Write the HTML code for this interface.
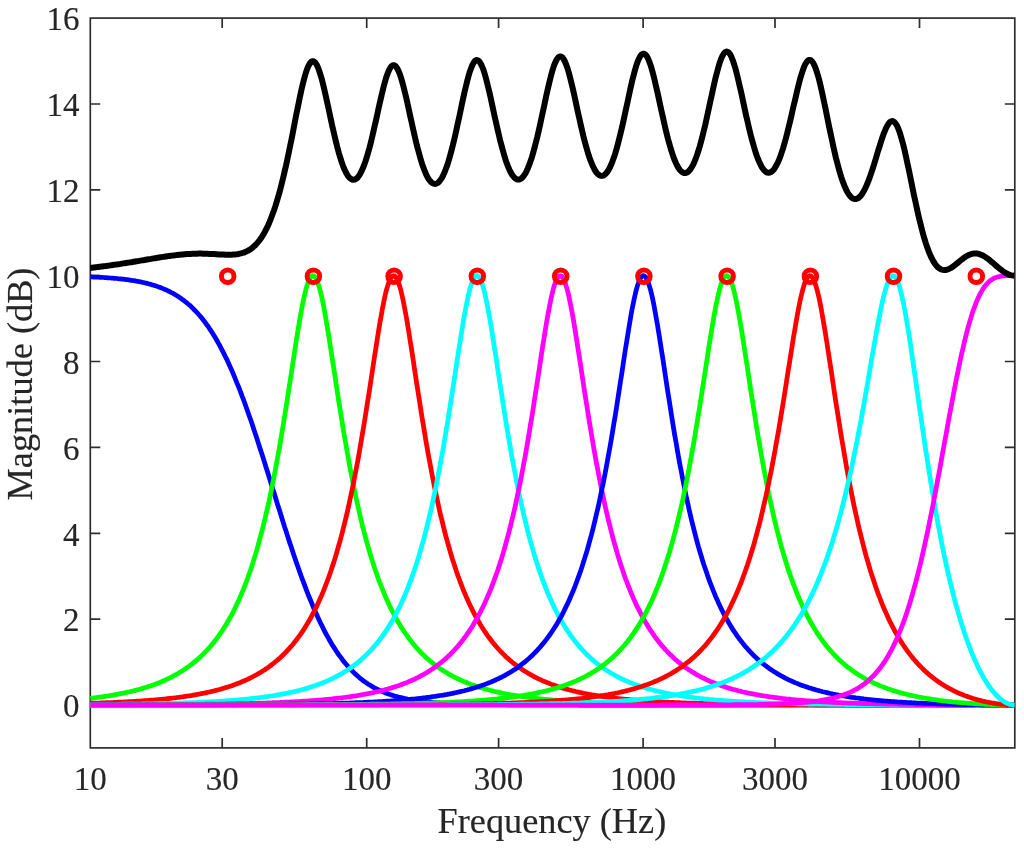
<!DOCTYPE html>
<html lang="en"><head><meta charset="utf-8"><title>Graphic equalizer band filters</title>
<style>
html,body{margin:0;padding:0;background:#fff;}
body{width:1024px;height:851px;overflow:hidden;}
svg{display:block;}
text.lab{font-size:36.3px;}
text{font-family:"Liberation Serif","Times New Roman",serif;font-size:33px;fill:#262626;stroke:#262626;stroke-width:0.15px;}
</style></head><body>
<svg width="1024" height="851" viewBox="0 0 1024 851">
<rect width="1024" height="851" fill="#fff"/>

<g stroke="#2e2e2e" stroke-width="1.7" fill="none">
<rect x="90.3" y="18.1" width="924.5" height="729.8"/>
<path d="M222.2 747.9 v-10.0 M222.2 18.1 v10.0"/>
<path d="M366.7 747.9 v-10.0 M366.7 18.1 v10.0"/>
<path d="M498.6 747.9 v-10.0 M498.6 18.1 v10.0"/>
<path d="M643.1 747.9 v-10.0 M643.1 18.1 v10.0"/>
<path d="M775.0 747.9 v-10.0 M775.0 18.1 v10.0"/>
<path d="M919.5 747.9 v-10.0 M919.5 18.1 v10.0"/>
<path d="M90.3 705.0 h10.0 M1014.8 705.0 h-10.0"/>
<path d="M90.3 619.1 h10.0 M1014.8 619.1 h-10.0"/>
<path d="M90.3 533.3 h10.0 M1014.8 533.3 h-10.0"/>
<path d="M90.3 447.4 h10.0 M1014.8 447.4 h-10.0"/>
<path d="M90.3 361.5 h10.0 M1014.8 361.5 h-10.0"/>
<path d="M90.3 275.7 h10.0 M1014.8 275.7 h-10.0"/>
<path d="M90.3 189.8 h10.0 M1014.8 189.8 h-10.0"/>
<path d="M90.3 104.0 h10.0 M1014.8 104.0 h-10.0"/>
</g>
<clipPath id="box"><rect x="89.8" y="18.1" width="925.7" height="729.8"/></clipPath>
<g fill="none" stroke-linejoin="round" stroke-linecap="butt" clip-path="url(#box)">
<path d="M90.3 276.9 L91.6 276.9 L92.9 277.0 L94.3 277.0 L95.6 277.1 L96.9 277.2 L98.2 277.2 L99.6 277.3 L100.9 277.4 L102.2 277.4 L103.5 277.5 L104.8 277.6 L106.2 277.7 L107.5 277.8 L108.8 277.9 L110.1 278.0 L111.5 278.1 L112.8 278.2 L114.1 278.3 L115.4 278.4 L116.7 278.5 L118.1 278.7 L119.4 278.8 L120.7 278.9 L122.0 279.1 L123.4 279.2 L124.7 279.4 L126.0 279.6 L127.3 279.7 L128.6 279.9 L130.0 280.1 L131.3 280.3 L132.6 280.5 L133.9 280.7 L135.2 280.9 L136.6 281.2 L137.9 281.4 L139.2 281.7 L140.5 281.9 L141.9 282.2 L143.2 282.5 L144.5 282.8 L145.8 283.1 L147.1 283.4 L148.5 283.8 L149.8 284.1 L151.1 284.5 L152.4 284.9 L153.8 285.3 L155.1 285.7 L156.4 286.1 L157.7 286.6 L159.0 287.1 L160.4 287.5 L161.7 288.1 L163.0 288.6 L164.3 289.2 L165.7 289.7 L167.0 290.3 L168.3 291.0 L169.6 291.6 L170.9 292.3 L172.3 293.0 L173.6 293.7 L174.9 294.5 L176.2 295.3 L177.6 296.1 L178.9 297.0 L180.2 297.9 L181.5 298.8 L182.8 299.8 L184.2 300.8 L185.5 301.8 L186.8 302.9 L188.1 304.0 L189.5 305.1 L190.8 306.3 L192.1 307.6 L193.4 308.9 L194.7 310.2 L196.1 311.6 L197.4 313.0 L198.7 314.5 L200.0 316.0 L201.4 317.6 L202.7 319.2 L204.0 320.9 L205.3 322.7 L206.6 324.5 L208.0 326.3 L209.3 328.3 L210.6 330.2 L211.9 332.3 L213.3 334.4 L214.6 336.5 L215.9 338.7 L217.2 341.0 L218.5 343.4 L219.9 345.8 L221.2 348.3 L222.5 350.8 L223.8 353.4 L225.1 356.1 L226.5 358.8 L227.8 361.6 L229.1 364.5 L230.4 367.4 L231.8 370.4 L233.1 373.5 L234.4 376.6 L235.7 379.8 L237.0 383.1 L238.4 386.4 L239.7 389.7 L241.0 393.2 L242.3 396.7 L243.7 400.2 L245.0 403.8 L246.3 407.5 L247.6 411.2 L248.9 415.0 L250.3 418.8 L251.6 422.6 L252.9 426.5 L254.2 430.5 L255.6 434.5 L256.9 438.5 L258.2 442.6 L259.5 446.7 L260.8 450.8 L262.2 454.9 L263.5 459.1 L264.8 463.3 L266.1 467.5 L267.5 471.7 L268.8 476.0 L270.1 480.2 L271.4 484.5 L272.7 488.8 L274.1 493.0 L275.4 497.3 L276.7 501.6 L278.0 505.8 L279.4 510.1 L280.7 514.3 L282.0 518.5 L283.3 522.7 L284.6 526.9 L286.0 531.0 L287.3 535.1 L288.6 539.2 L289.9 543.2 L291.3 547.3 L292.6 551.2 L293.9 555.2 L295.2 559.1 L296.5 562.9 L297.9 566.7 L299.2 570.5 L300.5 574.2 L301.8 577.8 L303.2 581.4 L304.5 584.9 L305.8 588.4 L307.1 591.8 L308.4 595.2 L309.8 598.5 L311.1 601.7 L312.4 604.9 L313.7 608.0 L315.0 611.1 L316.4 614.0 L317.7 617.0 L319.0 619.8 L320.3 622.6 L321.7 625.3 L323.0 628.0 L324.3 630.6 L325.6 633.1 L326.9 635.5 L328.3 637.9 L329.6 640.3 L330.9 642.5 L332.2 644.7 L333.6 646.9 L334.9 648.9 L336.2 651.0 L337.5 652.9 L338.8 654.8 L340.2 656.7 L341.5 658.4 L342.8 660.2 L344.1 661.9 L345.5 663.5 L346.8 665.0 L348.1 666.6 L349.4 668.0 L350.7 669.4 L352.1 670.8 L353.4 672.1 L354.7 673.4 L356.0 674.6 L357.4 675.8 L358.7 677.0 L360.0 678.1 L361.3 679.1 L362.6 680.2 L364.0 681.2 L365.3 682.1 L366.6 683.0 L367.9 683.9 L369.3 684.8 L370.6 685.6 L371.9 686.4 L373.2 687.1 L374.5 687.8 L375.9 688.5 L377.2 689.2 L378.5 689.9 L379.8 690.5 L381.2 691.1 L382.5 691.6 L383.8 692.2 L385.1 692.7 L386.4 693.2 L387.8 693.7 L389.1 694.2 L390.4 694.6 L391.7 695.1 L393.1 695.5 L394.4 695.9 L395.7 696.3 L397.0 696.6 L398.3 697.0 L399.7 697.3 L401.0 697.6 L402.3 697.9 L403.6 698.2 L404.9 698.5 L406.3 698.8 L407.6 699.1 L408.9 699.3 L410.2 699.5 L411.6 699.8 L412.9 700.0 L414.2 700.2 L415.5 700.4 L416.8 700.6 L418.2 700.8 L419.5 701.0 L420.8 701.1 L422.1 701.3 L423.5 701.5 L424.8 701.6 L426.1 701.8 L427.4 701.9 L428.7 702.0 L430.1 702.1 L431.4 702.3 L432.7 702.4 L434.0 702.5 L435.4 702.6 L436.7 702.7 L438.0 702.8 L439.3 702.9 L440.6 703.0 L442.0 703.1 L443.3 703.1 L444.6 703.2 L445.9 703.3 L447.3 703.4 L448.6 703.4 L449.9 703.5 L451.2 703.6 L452.5 703.6 L453.9 703.7 L455.2 703.7 L456.5 703.8 L457.8 703.8 L459.2 703.9 L460.5 703.9 L461.8 704.0 L463.1 704.0 L464.4 704.1 L465.8 704.1 L467.1 704.1 L468.4 704.2 L469.7 704.2 L471.1 704.2 L472.4 704.3 L473.7 704.3 L475.0 704.3 L476.3 704.4 L477.7 704.4 L479.0 704.4 L480.3 704.4 L481.6 704.5 L483.0 704.5 L484.3 704.5 L485.6 704.5 L486.9 704.5 L488.2 704.6 L489.6 704.6 L490.9 704.6 L492.2 704.6 L493.5 704.6 L494.8 704.6 L496.2 704.7 L497.5 704.7 L498.8 704.7 L500.1 704.7 L501.5 704.7 L502.8 704.7 L504.1 704.7 L505.4 704.7 L506.7 704.7 L508.1 704.8 L509.4 704.8 L510.7 704.8 L512.0 704.8 L513.4 704.8 L514.7 704.8 L516.0 704.8 L517.3 704.8 L518.6 704.8 L520.0 704.8 L521.3 704.8 L522.6 704.8 L523.9 704.8 L525.3 704.9 L526.6 704.9 L527.9 704.9 L529.2 704.9 L530.5 704.9 L531.9 704.9 L533.2 704.9 L534.5 704.9 L535.8 704.9 L537.2 704.9 L538.5 704.9 L539.8 704.9 L541.1 704.9 L542.4 704.9 L543.8 704.9 L545.1 704.9 L546.4 704.9 L547.7 704.9 L549.1 704.9 L550.4 704.9 L551.7 704.9 L553.0 704.9 L554.3 704.9 L555.7 704.9 L557.0 704.9 L558.3 704.9 L559.6 704.9 L561.0 704.9 L562.3 704.9 L563.6 704.9 L564.9 704.9 L566.2 704.9 L567.6 704.9 L568.9 704.9 L570.2 704.9 L571.5 704.9 L572.9 704.9 L574.2 704.9 L575.5 704.9 L576.8 704.9 L578.1 705.0 L579.5 705.0 L580.8 705.0 L582.1 705.0 L583.4 705.0 L584.7 705.0 L586.1 705.0 L587.4 705.0 L588.7 705.0 L590.0 705.0 L591.4 705.0 L592.7 705.0 L594.0 705.0 L595.3 705.0 L596.6 705.0 L598.0 705.0 L599.3 705.0 L600.6 705.0 L601.9 705.0 L603.3 705.0 L604.6 705.0 L605.9 705.0 L607.2 705.0 L608.5 705.0 L609.9 705.0 L611.2 705.0 L612.5 705.0 L613.8 705.0 L615.2 705.0 L616.5 705.0 L617.8 705.0 L619.1 705.0 L620.4 705.0 L621.8 705.0 L623.1 705.0 L624.4 705.0 L625.7 705.0 L627.1 705.0 L628.4 705.0 L629.7 705.0 L631.0 705.0 L632.3 705.0 L633.7 705.0 L635.0 705.0 L636.3 705.0 L637.6 705.0 L639.0 705.0 L640.3 705.0 L641.6 705.0 L642.9 705.0 L644.2 705.0 L645.6 705.0 L646.9 705.0 L648.2 705.0 L649.5 705.0 L650.9 705.0 L652.2 705.0 L653.5 705.0 L654.8 705.0 L656.1 705.0 L657.5 705.0 L658.8 705.0 L660.1 705.0 L661.4 705.0 L662.8 705.0 L664.1 705.0 L665.4 705.0 L666.7 705.0 L668.0 705.0 L669.4 705.0 L670.7 705.0 L672.0 705.0 L673.3 705.0 L674.6 705.0 L676.0 705.0 L677.3 705.0 L678.6 705.0 L679.9 705.0 L681.3 705.0 L682.6 705.0 L683.9 705.0 L685.2 705.0 L686.5 705.0 L687.9 705.0 L689.2 705.0 L690.5 705.0 L691.8 705.0 L693.2 705.0 L694.5 705.0 L695.8 705.0 L697.1 705.0 L698.4 705.0 L699.8 705.0 L701.1 705.0 L702.4 705.0 L703.7 705.0 L705.1 705.0 L706.4 705.0 L707.7 705.0 L709.0 705.0 L710.3 705.0 L711.7 705.0 L713.0 705.0 L714.3 705.0 L715.6 705.0 L717.0 705.0 L718.3 705.0 L719.6 705.0 L720.9 705.0 L722.2 705.0 L723.6 705.0 L724.9 705.0 L726.2 705.0 L727.5 705.0 L728.9 705.0 L730.2 705.0 L731.5 705.0 L732.8 705.0 L734.1 705.0 L735.5 705.0 L736.8 705.0 L738.1 705.0 L739.4 705.0 L740.8 705.0 L742.1 705.0 L743.4 705.0 L744.7 705.0 L746.0 705.0 L747.4 705.0 L748.7 705.0 L750.0 705.0 L751.3 705.0 L752.7 705.0 L754.0 705.0 L755.3 705.0 L756.6 705.0 L757.9 705.0 L759.3 705.0 L760.6 705.0 L761.9 705.0 L763.2 705.0 L764.5 705.0 L765.9 705.0 L767.2 705.0 L768.5 705.0 L769.8 705.0 L771.2 705.0 L772.5 705.0 L773.8 705.0 L775.1 705.0 L776.4 705.0 L777.8 705.0 L779.1 705.0 L780.4 705.0 L781.7 705.0 L783.1 705.0 L784.4 705.0 L785.7 705.0 L787.0 705.0 L788.3 705.0 L789.7 705.0 L791.0 705.0 L792.3 705.0 L793.6 705.0 L795.0 705.0 L796.3 705.0 L797.6 705.0 L798.9 705.0 L800.2 705.0 L801.6 705.0 L802.9 705.0 L804.2 705.0 L805.5 705.0 L806.9 705.0 L808.2 705.0 L809.5 705.0 L810.8 705.0 L812.1 705.0 L813.5 705.0 L814.8 705.0 L816.1 705.0 L817.4 705.0 L818.8 705.0 L820.1 705.0 L821.4 705.0 L822.7 705.0 L824.0 705.0 L825.4 705.0 L826.7 705.0 L828.0 705.0 L829.3 705.0 L830.7 705.0 L832.0 705.0 L833.3 705.0 L834.6 705.0 L835.9 705.0 L837.3 705.0 L838.6 705.0 L839.9 705.0 L841.2 705.0 L842.6 705.0 L843.9 705.0 L845.2 705.0 L846.5 705.0 L847.8 705.0 L849.2 705.0 L850.5 705.0 L851.8 705.0 L853.1 705.0 L854.4 705.0 L855.8 705.0 L857.1 705.0 L858.4 705.0 L859.7 705.0 L861.1 705.0 L862.4 705.0 L863.7 705.0 L865.0 705.0 L866.3 705.0 L867.7 705.0 L869.0 705.0 L870.3 705.0 L871.6 705.0 L873.0 705.0 L874.3 705.0 L875.6 705.0 L876.9 705.0 L878.2 705.0 L879.6 705.0 L880.9 705.0 L882.2 705.0 L883.5 705.0 L884.9 705.0 L886.2 705.0 L887.5 705.0 L888.8 705.0 L890.1 705.0 L891.5 705.0 L892.8 705.0 L894.1 705.0 L895.4 705.0 L896.8 705.0 L898.1 705.0 L899.4 705.0 L900.7 705.0 L902.0 705.0 L903.4 705.0 L904.7 705.0 L906.0 705.0 L907.3 705.0 L908.7 705.0 L910.0 705.0 L911.3 705.0 L912.6 705.0 L913.9 705.0 L915.3 705.0 L916.6 705.0 L917.9 705.0 L919.2 705.0 L920.6 705.0 L921.9 705.0 L923.2 705.0 L924.5 705.0 L925.8 705.0 L927.2 705.0 L928.5 705.0 L929.8 705.0 L931.1 705.0 L932.5 705.0 L933.8 705.0 L935.1 705.0 L936.4 705.0 L937.7 705.0 L939.1 705.0 L940.4 705.0 L941.7 705.0 L943.0 705.0 L944.3 705.0 L945.7 705.0 L947.0 705.0 L948.3 705.0 L949.6 705.0 L951.0 705.0 L952.3 705.0 L953.6 705.0 L954.9 705.0 L956.2 705.0 L957.6 705.0 L958.9 705.0 L960.2 705.0 L961.5 705.0 L962.9 705.0 L964.2 705.0 L965.5 705.0 L966.8 705.0 L968.1 705.0 L969.5 705.0 L970.8 705.0 L972.1 705.0 L973.4 705.0 L974.8 705.0 L976.1 705.0 L977.4 705.0 L978.7 705.0 L980.0 705.0 L981.4 705.0 L982.7 705.0 L984.0 705.0 L985.3 705.0 L986.7 705.0 L988.0 705.0 L989.3 705.0 L990.6 705.0 L991.9 705.0 L993.3 705.0 L994.6 705.0 L995.9 705.0 L997.2 705.0 L998.6 705.0 L999.9 705.0 L1001.2 705.0 L1002.5 705.0 L1003.8 705.0 L1005.2 705.0 L1006.5 705.0 L1007.8 705.0 L1009.1 705.0 L1010.5 705.0 L1011.8 705.0 L1013.1 705.0 L1014.4 705.0" stroke="#0000ff" stroke-width="4.75"/>
<path d="M90.3 698.3 L91.6 698.1 L92.9 698.0 L94.3 697.8 L95.6 697.7 L96.9 697.5 L98.2 697.3 L99.6 697.1 L100.9 697.0 L102.2 696.8 L103.5 696.6 L104.8 696.4 L106.2 696.2 L107.5 696.0 L108.8 695.8 L110.1 695.6 L111.5 695.4 L112.8 695.1 L114.1 694.9 L115.4 694.7 L116.7 694.4 L118.1 694.2 L119.4 693.9 L120.7 693.7 L122.0 693.4 L123.4 693.1 L124.7 692.9 L126.0 692.6 L127.3 692.3 L128.6 692.0 L130.0 691.7 L131.3 691.4 L132.6 691.1 L133.9 690.7 L135.2 690.4 L136.6 690.1 L137.9 689.7 L139.2 689.3 L140.5 689.0 L141.9 688.6 L143.2 688.2 L144.5 687.8 L145.8 687.4 L147.1 687.0 L148.5 686.5 L149.8 686.1 L151.1 685.7 L152.4 685.2 L153.8 684.7 L155.1 684.2 L156.4 683.7 L157.7 683.2 L159.0 682.7 L160.4 682.2 L161.7 681.6 L163.0 681.0 L164.3 680.5 L165.7 679.9 L167.0 679.2 L168.3 678.6 L169.6 678.0 L170.9 677.3 L172.3 676.6 L173.6 675.9 L174.9 675.2 L176.2 674.5 L177.6 673.7 L178.9 672.9 L180.2 672.1 L181.5 671.3 L182.8 670.5 L184.2 669.6 L185.5 668.7 L186.8 667.8 L188.1 666.9 L189.5 665.9 L190.8 664.9 L192.1 663.9 L193.4 662.9 L194.7 661.8 L196.1 660.7 L197.4 659.5 L198.7 658.4 L200.0 657.2 L201.4 655.9 L202.7 654.6 L204.0 653.3 L205.3 652.0 L206.6 650.6 L208.0 649.2 L209.3 647.7 L210.6 646.2 L211.9 644.6 L213.3 643.0 L214.6 641.3 L215.9 639.6 L217.2 637.9 L218.5 636.1 L219.9 634.2 L221.2 632.3 L222.5 630.3 L223.8 628.3 L225.1 626.2 L226.5 624.0 L227.8 621.7 L229.1 619.4 L230.4 617.1 L231.8 614.6 L233.1 612.1 L234.4 609.5 L235.7 606.8 L237.0 604.0 L238.4 601.1 L239.7 598.1 L241.0 595.1 L242.3 591.9 L243.7 588.7 L245.0 585.3 L246.3 581.8 L247.6 578.3 L248.9 574.5 L250.3 570.7 L251.6 566.8 L252.9 562.7 L254.2 558.5 L255.6 554.1 L256.9 549.7 L258.2 545.0 L259.5 540.2 L260.8 535.3 L262.2 530.2 L263.5 524.9 L264.8 519.5 L266.1 513.9 L267.5 508.1 L268.8 502.2 L270.1 496.0 L271.4 489.7 L272.7 483.2 L274.1 476.5 L275.4 469.6 L276.7 462.5 L278.0 455.3 L279.4 447.8 L280.7 440.1 L282.0 432.3 L283.3 424.3 L284.6 416.2 L286.0 407.9 L287.3 399.4 L288.6 390.9 L289.9 382.3 L291.3 373.6 L292.6 364.9 L293.9 356.3 L295.2 347.7 L296.5 339.2 L297.9 331.0 L299.2 323.0 L300.5 315.3 L301.8 308.1 L303.2 301.4 L304.5 295.3 L305.8 289.9 L307.1 285.2 L308.4 281.4 L309.8 278.6 L311.1 276.6 L312.4 275.7 L313.7 275.9 L315.0 277.0 L316.4 279.2 L317.7 282.3 L319.0 286.3 L320.3 291.2 L321.7 296.8 L323.0 303.1 L324.3 309.9 L325.6 317.2 L326.9 325.0 L328.3 333.0 L329.6 341.4 L330.9 349.8 L332.2 358.5 L333.6 367.1 L334.9 375.8 L336.2 384.5 L337.5 393.1 L338.8 401.6 L340.2 410.0 L341.5 418.2 L342.8 426.4 L344.1 434.3 L345.5 442.1 L346.8 449.7 L348.1 457.1 L349.4 464.3 L350.7 471.4 L352.1 478.2 L353.4 484.9 L354.7 491.3 L356.0 497.6 L357.4 503.7 L358.7 509.6 L360.0 515.3 L361.3 520.9 L362.6 526.3 L364.0 531.5 L365.3 536.6 L366.6 541.5 L367.9 546.2 L369.3 550.8 L370.6 555.3 L371.9 559.6 L373.2 563.7 L374.5 567.8 L375.9 571.7 L377.2 575.5 L378.5 579.2 L379.8 582.7 L381.2 586.2 L382.5 589.5 L383.8 592.7 L385.1 595.9 L386.4 598.9 L387.8 601.8 L389.1 604.7 L390.4 607.4 L391.7 610.1 L393.1 612.7 L394.4 615.2 L395.7 617.7 L397.0 620.0 L398.3 622.3 L399.7 624.5 L401.0 626.7 L402.3 628.8 L403.6 630.8 L404.9 632.8 L406.3 634.7 L407.6 636.5 L408.9 638.3 L410.2 640.1 L411.6 641.8 L412.9 643.4 L414.2 645.0 L415.5 646.6 L416.8 648.1 L418.2 649.5 L419.5 650.9 L420.8 652.3 L422.1 653.7 L423.5 655.0 L424.8 656.2 L426.1 657.5 L427.4 658.7 L428.7 659.8 L430.1 661.0 L431.4 662.1 L432.7 663.1 L434.0 664.2 L435.4 665.2 L436.7 666.2 L438.0 667.1 L439.3 668.1 L440.6 669.0 L442.0 669.8 L443.3 670.7 L444.6 671.5 L445.9 672.4 L447.3 673.1 L448.6 673.9 L449.9 674.7 L451.2 675.4 L452.5 676.1 L453.9 676.8 L455.2 677.5 L456.5 678.1 L457.8 678.8 L459.2 679.4 L460.5 680.0 L461.8 680.6 L463.1 681.2 L464.4 681.8 L465.8 682.3 L467.1 682.8 L468.4 683.4 L469.7 683.9 L471.1 684.4 L472.4 684.8 L473.7 685.3 L475.0 685.8 L476.3 686.2 L477.7 686.7 L479.0 687.1 L480.3 687.5 L481.6 687.9 L483.0 688.3 L484.3 688.7 L485.6 689.1 L486.9 689.4 L488.2 689.8 L489.6 690.1 L490.9 690.5 L492.2 690.8 L493.5 691.1 L494.8 691.5 L496.2 691.8 L497.5 692.1 L498.8 692.4 L500.1 692.7 L501.5 692.9 L502.8 693.2 L504.1 693.5 L505.4 693.7 L506.7 694.0 L508.1 694.2 L509.4 694.5 L510.7 694.7 L512.0 695.0 L513.4 695.2 L514.7 695.4 L516.0 695.6 L517.3 695.8 L518.6 696.0 L520.0 696.2 L521.3 696.4 L522.6 696.6 L523.9 696.8 L525.3 697.0 L526.6 697.2 L527.9 697.4 L529.2 697.5 L530.5 697.7 L531.9 697.9 L533.2 698.0 L534.5 698.2 L535.8 698.3 L537.2 698.5 L538.5 698.6 L539.8 698.8 L541.1 698.9 L542.4 699.0 L543.8 699.2 L545.1 699.3 L546.4 699.4 L547.7 699.6 L549.1 699.7 L550.4 699.8 L551.7 699.9 L553.0 700.0 L554.3 700.1 L555.7 700.2 L557.0 700.3 L558.3 700.4 L559.6 700.5 L561.0 700.6 L562.3 700.7 L563.6 700.8 L564.9 700.9 L566.2 701.0 L567.6 701.1 L568.9 701.2 L570.2 701.3 L571.5 701.4 L572.9 701.4 L574.2 701.5 L575.5 701.6 L576.8 701.7 L578.1 701.7 L579.5 701.8 L580.8 701.9 L582.1 701.9 L583.4 702.0 L584.7 702.1 L586.1 702.1 L587.4 702.2 L588.7 702.3 L590.0 702.3 L591.4 702.4 L592.7 702.4 L594.0 702.5 L595.3 702.5 L596.6 702.6 L598.0 702.7 L599.3 702.7 L600.6 702.8 L601.9 702.8 L603.3 702.9 L604.6 702.9 L605.9 702.9 L607.2 703.0 L608.5 703.0 L609.9 703.1 L611.2 703.1 L612.5 703.2 L613.8 703.2 L615.2 703.2 L616.5 703.3 L617.8 703.3 L619.1 703.3 L620.4 703.4 L621.8 703.4 L623.1 703.5 L624.4 703.5 L625.7 703.5 L627.1 703.6 L628.4 703.6 L629.7 703.6 L631.0 703.6 L632.3 703.7 L633.7 703.7 L635.0 703.7 L636.3 703.8 L637.6 703.8 L639.0 703.8 L640.3 703.8 L641.6 703.9 L642.9 703.9 L644.2 703.9 L645.6 703.9 L646.9 704.0 L648.2 704.0 L649.5 704.0 L650.9 704.0 L652.2 704.0 L653.5 704.1 L654.8 704.1 L656.1 704.1 L657.5 704.1 L658.8 704.1 L660.1 704.2 L661.4 704.2 L662.8 704.2 L664.1 704.2 L665.4 704.2 L666.7 704.2 L668.0 704.3 L669.4 704.3 L670.7 704.3 L672.0 704.3 L673.3 704.3 L674.6 704.3 L676.0 704.3 L677.3 704.4 L678.6 704.4 L679.9 704.4 L681.3 704.4 L682.6 704.4 L683.9 704.4 L685.2 704.4 L686.5 704.4 L687.9 704.5 L689.2 704.5 L690.5 704.5 L691.8 704.5 L693.2 704.5 L694.5 704.5 L695.8 704.5 L697.1 704.5 L698.4 704.5 L699.8 704.6 L701.1 704.6 L702.4 704.6 L703.7 704.6 L705.1 704.6 L706.4 704.6 L707.7 704.6 L709.0 704.6 L710.3 704.6 L711.7 704.6 L713.0 704.6 L714.3 704.6 L715.6 704.7 L717.0 704.7 L718.3 704.7 L719.6 704.7 L720.9 704.7 L722.2 704.7 L723.6 704.7 L724.9 704.7 L726.2 704.7 L727.5 704.7 L728.9 704.7 L730.2 704.7 L731.5 704.7 L732.8 704.7 L734.1 704.7 L735.5 704.7 L736.8 704.7 L738.1 704.8 L739.4 704.8 L740.8 704.8 L742.1 704.8 L743.4 704.8 L744.7 704.8 L746.0 704.8 L747.4 704.8 L748.7 704.8 L750.0 704.8 L751.3 704.8 L752.7 704.8 L754.0 704.8 L755.3 704.8 L756.6 704.8 L757.9 704.8 L759.3 704.8 L760.6 704.8 L761.9 704.8 L763.2 704.8 L764.5 704.8 L765.9 704.8 L767.2 704.8 L768.5 704.8 L769.8 704.8 L771.2 704.8 L772.5 704.8 L773.8 704.9 L775.1 704.9 L776.4 704.9 L777.8 704.9 L779.1 704.9 L780.4 704.9 L781.7 704.9 L783.1 704.9 L784.4 704.9 L785.7 704.9 L787.0 704.9 L788.3 704.9 L789.7 704.9 L791.0 704.9 L792.3 704.9 L793.6 704.9 L795.0 704.9 L796.3 704.9 L797.6 704.9 L798.9 704.9 L800.2 704.9 L801.6 704.9 L802.9 704.9 L804.2 704.9 L805.5 704.9 L806.9 704.9 L808.2 704.9 L809.5 704.9 L810.8 704.9 L812.1 704.9 L813.5 704.9 L814.8 704.9 L816.1 704.9 L817.4 704.9 L818.8 704.9 L820.1 704.9 L821.4 704.9 L822.7 704.9 L824.0 704.9 L825.4 704.9 L826.7 704.9 L828.0 704.9 L829.3 704.9 L830.7 704.9 L832.0 704.9 L833.3 704.9 L834.6 704.9 L835.9 704.9 L837.3 704.9 L838.6 704.9 L839.9 704.9 L841.2 704.9 L842.6 704.9 L843.9 704.9 L845.2 704.9 L846.5 704.9 L847.8 704.9 L849.2 704.9 L850.5 704.9 L851.8 704.9 L853.1 704.9 L854.4 704.9 L855.8 704.9 L857.1 704.9 L858.4 704.9 L859.7 704.9 L861.1 704.9 L862.4 704.9 L863.7 704.9 L865.0 704.9 L866.3 704.9 L867.7 704.9 L869.0 704.9 L870.3 704.9 L871.6 705.0 L873.0 705.0 L874.3 705.0 L875.6 705.0 L876.9 705.0 L878.2 705.0 L879.6 705.0 L880.9 705.0 L882.2 705.0 L883.5 705.0 L884.9 705.0 L886.2 705.0 L887.5 705.0 L888.8 705.0 L890.1 705.0 L891.5 705.0 L892.8 705.0 L894.1 705.0 L895.4 705.0 L896.8 705.0 L898.1 705.0 L899.4 705.0 L900.7 705.0 L902.0 705.0 L903.4 705.0 L904.7 705.0 L906.0 705.0 L907.3 705.0 L908.7 705.0 L910.0 705.0 L911.3 705.0 L912.6 705.0 L913.9 705.0 L915.3 705.0 L916.6 705.0 L917.9 705.0 L919.2 705.0 L920.6 705.0 L921.9 705.0 L923.2 705.0 L924.5 705.0 L925.8 705.0 L927.2 705.0 L928.5 705.0 L929.8 705.0 L931.1 705.0 L932.5 705.0 L933.8 705.0 L935.1 705.0 L936.4 705.0 L937.7 705.0 L939.1 705.0 L940.4 705.0 L941.7 705.0 L943.0 705.0 L944.3 705.0 L945.7 705.0 L947.0 705.0 L948.3 705.0 L949.6 705.0 L951.0 705.0 L952.3 705.0 L953.6 705.0 L954.9 705.0 L956.2 705.0 L957.6 705.0 L958.9 705.0 L960.2 705.0 L961.5 705.0 L962.9 705.0 L964.2 705.0 L965.5 705.0 L966.8 705.0 L968.1 705.0 L969.5 705.0 L970.8 705.0 L972.1 705.0 L973.4 705.0 L974.8 705.0 L976.1 705.0 L977.4 705.0 L978.7 705.0 L980.0 705.0 L981.4 705.0 L982.7 705.0 L984.0 705.0 L985.3 705.0 L986.7 705.0 L988.0 705.0 L989.3 705.0 L990.6 705.0 L991.9 705.0 L993.3 705.0 L994.6 705.0 L995.9 705.0 L997.2 705.0 L998.6 705.0 L999.9 705.0 L1001.2 705.0 L1002.5 705.0 L1003.8 705.0 L1005.2 705.0 L1006.5 705.0 L1007.8 705.0 L1009.1 705.0 L1010.5 705.0 L1011.8 705.0 L1013.1 705.0 L1014.4 705.0" stroke="#00ff00" stroke-width="4.75"/>
<path d="M90.3 703.3 L91.6 703.2 L92.9 703.2 L94.3 703.1 L95.6 703.1 L96.9 703.1 L98.2 703.0 L99.6 703.0 L100.9 702.9 L102.2 702.9 L103.5 702.8 L104.8 702.8 L106.2 702.7 L107.5 702.7 L108.8 702.6 L110.1 702.6 L111.5 702.5 L112.8 702.5 L114.1 702.4 L115.4 702.4 L116.7 702.3 L118.1 702.2 L119.4 702.2 L120.7 702.1 L122.0 702.1 L123.4 702.0 L124.7 701.9 L126.0 701.9 L127.3 701.8 L128.6 701.7 L130.0 701.6 L131.3 701.6 L132.6 701.5 L133.9 701.4 L135.2 701.3 L136.6 701.2 L137.9 701.2 L139.2 701.1 L140.5 701.0 L141.9 700.9 L143.2 700.8 L144.5 700.7 L145.8 700.6 L147.1 700.5 L148.5 700.4 L149.8 700.3 L151.1 700.2 L152.4 700.1 L153.8 700.0 L155.1 699.9 L156.4 699.8 L157.7 699.6 L159.0 699.5 L160.4 699.4 L161.7 699.3 L163.0 699.1 L164.3 699.0 L165.7 698.9 L167.0 698.7 L168.3 698.6 L169.6 698.4 L170.9 698.3 L172.3 698.1 L173.6 698.0 L174.9 697.8 L176.2 697.7 L177.6 697.5 L178.9 697.3 L180.2 697.1 L181.5 697.0 L182.8 696.8 L184.2 696.6 L185.5 696.4 L186.8 696.2 L188.1 696.0 L189.5 695.8 L190.8 695.6 L192.1 695.4 L193.4 695.1 L194.7 694.9 L196.1 694.7 L197.4 694.4 L198.7 694.2 L200.0 693.9 L201.4 693.7 L202.7 693.4 L204.0 693.2 L205.3 692.9 L206.6 692.6 L208.0 692.3 L209.3 692.0 L210.6 691.7 L211.9 691.4 L213.3 691.1 L214.6 690.7 L215.9 690.4 L217.2 690.1 L218.5 689.7 L219.9 689.4 L221.2 689.0 L222.5 688.6 L223.8 688.2 L225.1 687.8 L226.5 687.4 L227.8 687.0 L229.1 686.6 L230.4 686.1 L231.8 685.7 L233.1 685.2 L234.4 684.7 L235.7 684.3 L237.0 683.8 L238.4 683.2 L239.7 682.7 L241.0 682.2 L242.3 681.6 L243.7 681.1 L245.0 680.5 L246.3 679.9 L247.6 679.3 L248.9 678.6 L250.3 678.0 L251.6 677.3 L252.9 676.7 L254.2 676.0 L255.6 675.2 L256.9 674.5 L258.2 673.7 L259.5 673.0 L260.8 672.2 L262.2 671.4 L263.5 670.5 L264.8 669.7 L266.1 668.8 L267.5 667.9 L268.8 666.9 L270.1 666.0 L271.4 665.0 L272.7 663.9 L274.1 662.9 L275.4 661.8 L276.7 660.7 L278.0 659.6 L279.4 658.4 L280.7 657.2 L282.0 656.0 L283.3 654.7 L284.6 653.4 L286.0 652.0 L287.3 650.6 L288.6 649.2 L289.9 647.7 L291.3 646.2 L292.6 644.7 L293.9 643.1 L295.2 641.4 L296.5 639.7 L297.9 637.9 L299.2 636.1 L300.5 634.3 L301.8 632.4 L303.2 630.4 L304.5 628.3 L305.8 626.2 L307.1 624.1 L308.4 621.8 L309.8 619.5 L311.1 617.2 L312.4 614.7 L313.7 612.2 L315.0 609.6 L316.4 606.9 L317.7 604.1 L319.0 601.2 L320.3 598.3 L321.7 595.2 L323.0 592.1 L324.3 588.8 L325.6 585.4 L326.9 582.0 L328.3 578.4 L329.6 574.7 L330.9 570.9 L332.2 566.9 L333.6 562.9 L334.9 558.7 L336.2 554.3 L337.5 549.8 L338.8 545.2 L340.2 540.4 L341.5 535.5 L342.8 530.4 L344.1 525.2 L345.5 519.7 L346.8 514.1 L348.1 508.4 L349.4 502.4 L350.7 496.3 L352.1 490.0 L353.4 483.5 L354.7 476.8 L356.0 469.9 L357.4 462.8 L358.7 455.6 L360.0 448.1 L361.3 440.5 L362.6 432.6 L364.0 424.7 L365.3 416.5 L366.6 408.2 L367.9 399.8 L369.3 391.3 L370.6 382.6 L371.9 374.0 L373.2 365.3 L374.5 356.6 L375.9 348.0 L377.2 339.6 L378.5 331.3 L379.8 323.3 L381.2 315.7 L382.5 308.4 L383.8 301.7 L385.1 295.5 L386.4 290.1 L387.8 285.4 L389.1 281.6 L390.4 278.7 L391.7 276.7 L393.1 275.8 L394.4 275.9 L395.7 277.0 L397.0 279.1 L398.3 282.2 L399.7 286.1 L401.0 291.0 L402.3 296.5 L403.6 302.8 L404.9 309.6 L406.3 316.9 L407.6 324.7 L408.9 332.7 L410.2 341.0 L411.6 349.5 L412.9 358.1 L414.2 366.8 L415.5 375.5 L416.8 384.1 L418.2 392.7 L419.5 401.2 L420.8 409.6 L422.1 417.9 L423.5 426.0 L424.8 434.0 L426.1 441.8 L427.4 449.4 L428.7 456.8 L430.1 464.0 L431.4 471.1 L432.7 477.9 L434.0 484.6 L435.4 491.1 L436.7 497.4 L438.0 503.5 L439.3 509.4 L440.6 515.1 L442.0 520.7 L443.3 526.1 L444.6 531.3 L445.9 536.4 L447.3 541.3 L448.6 546.0 L449.9 550.6 L451.2 555.1 L452.5 559.4 L453.9 563.6 L455.2 567.6 L456.5 571.6 L457.8 575.3 L459.2 579.0 L460.5 582.6 L461.8 586.0 L463.1 589.4 L464.4 592.6 L465.8 595.7 L467.1 598.8 L468.4 601.7 L469.7 604.6 L471.1 607.3 L472.4 610.0 L473.7 612.6 L475.0 615.1 L476.3 617.6 L477.7 619.9 L479.0 622.2 L480.3 624.5 L481.6 626.6 L483.0 628.7 L484.3 630.7 L485.6 632.7 L486.9 634.6 L488.2 636.5 L489.6 638.3 L490.9 640.0 L492.2 641.7 L493.5 643.4 L494.8 644.9 L496.2 646.5 L497.5 648.0 L498.8 649.5 L500.1 650.9 L501.5 652.3 L502.8 653.6 L504.1 654.9 L505.4 656.2 L506.7 657.4 L508.1 658.6 L509.4 659.8 L510.7 660.9 L512.0 662.0 L513.4 663.1 L514.7 664.1 L516.0 665.1 L517.3 666.1 L518.6 667.1 L520.0 668.0 L521.3 668.9 L522.6 669.8 L523.9 670.7 L525.3 671.5 L526.6 672.3 L527.9 673.1 L529.2 673.9 L530.5 674.6 L531.9 675.4 L533.2 676.1 L534.5 676.8 L535.8 677.5 L537.2 678.1 L538.5 678.8 L539.8 679.4 L541.1 680.0 L542.4 680.6 L543.8 681.2 L545.1 681.7 L546.4 682.3 L547.7 682.8 L549.1 683.3 L550.4 683.9 L551.7 684.4 L553.0 684.8 L554.3 685.3 L555.7 685.8 L557.0 686.2 L558.3 686.7 L559.6 687.1 L561.0 687.5 L562.3 687.9 L563.6 688.3 L564.9 688.7 L566.2 689.1 L567.6 689.4 L568.9 689.8 L570.2 690.1 L571.5 690.5 L572.9 690.8 L574.2 691.1 L575.5 691.5 L576.8 691.8 L578.1 692.1 L579.5 692.4 L580.8 692.7 L582.1 692.9 L583.4 693.2 L584.7 693.5 L586.1 693.7 L587.4 694.0 L588.7 694.2 L590.0 694.5 L591.4 694.7 L592.7 695.0 L594.0 695.2 L595.3 695.4 L596.6 695.6 L598.0 695.8 L599.3 696.0 L600.6 696.2 L601.9 696.4 L603.3 696.6 L604.6 696.8 L605.9 697.0 L607.2 697.2 L608.5 697.4 L609.9 697.5 L611.2 697.7 L612.5 697.9 L613.8 698.0 L615.2 698.2 L616.5 698.3 L617.8 698.5 L619.1 698.6 L620.4 698.8 L621.8 698.9 L623.1 699.0 L624.4 699.2 L625.7 699.3 L627.1 699.4 L628.4 699.6 L629.7 699.7 L631.0 699.8 L632.3 699.9 L633.7 700.0 L635.0 700.1 L636.3 700.2 L637.6 700.3 L639.0 700.4 L640.3 700.5 L641.6 700.6 L642.9 700.7 L644.2 700.8 L645.6 700.9 L646.9 701.0 L648.2 701.1 L649.5 701.2 L650.9 701.3 L652.2 701.4 L653.5 701.4 L654.8 701.5 L656.1 701.6 L657.5 701.7 L658.8 701.7 L660.1 701.8 L661.4 701.9 L662.8 702.0 L664.1 702.0 L665.4 702.1 L666.7 702.1 L668.0 702.2 L669.4 702.3 L670.7 702.3 L672.0 702.4 L673.3 702.4 L674.6 702.5 L676.0 702.6 L677.3 702.6 L678.6 702.7 L679.9 702.7 L681.3 702.8 L682.6 702.8 L683.9 702.9 L685.2 702.9 L686.5 703.0 L687.9 703.0 L689.2 703.0 L690.5 703.1 L691.8 703.1 L693.2 703.2 L694.5 703.2 L695.8 703.2 L697.1 703.3 L698.4 703.3 L699.8 703.4 L701.1 703.4 L702.4 703.4 L703.7 703.5 L705.1 703.5 L706.4 703.5 L707.7 703.6 L709.0 703.6 L710.3 703.6 L711.7 703.7 L713.0 703.7 L714.3 703.7 L715.6 703.7 L717.0 703.8 L718.3 703.8 L719.6 703.8 L720.9 703.8 L722.2 703.9 L723.6 703.9 L724.9 703.9 L726.2 703.9 L727.5 704.0 L728.9 704.0 L730.2 704.0 L731.5 704.0 L732.8 704.0 L734.1 704.1 L735.5 704.1 L736.8 704.1 L738.1 704.1 L739.4 704.1 L740.8 704.2 L742.1 704.2 L743.4 704.2 L744.7 704.2 L746.0 704.2 L747.4 704.3 L748.7 704.3 L750.0 704.3 L751.3 704.3 L752.7 704.3 L754.0 704.3 L755.3 704.3 L756.6 704.4 L757.9 704.4 L759.3 704.4 L760.6 704.4 L761.9 704.4 L763.2 704.4 L764.5 704.4 L765.9 704.4 L767.2 704.5 L768.5 704.5 L769.8 704.5 L771.2 704.5 L772.5 704.5 L773.8 704.5 L775.1 704.5 L776.4 704.5 L777.8 704.5 L779.1 704.6 L780.4 704.6 L781.7 704.6 L783.1 704.6 L784.4 704.6 L785.7 704.6 L787.0 704.6 L788.3 704.6 L789.7 704.6 L791.0 704.6 L792.3 704.6 L793.6 704.6 L795.0 704.7 L796.3 704.7 L797.6 704.7 L798.9 704.7 L800.2 704.7 L801.6 704.7 L802.9 704.7 L804.2 704.7 L805.5 704.7 L806.9 704.7 L808.2 704.7 L809.5 704.7 L810.8 704.7 L812.1 704.7 L813.5 704.7 L814.8 704.7 L816.1 704.8 L817.4 704.8 L818.8 704.8 L820.1 704.8 L821.4 704.8 L822.7 704.8 L824.0 704.8 L825.4 704.8 L826.7 704.8 L828.0 704.8 L829.3 704.8 L830.7 704.8 L832.0 704.8 L833.3 704.8 L834.6 704.8 L835.9 704.8 L837.3 704.8 L838.6 704.8 L839.9 704.8 L841.2 704.8 L842.6 704.8 L843.9 704.8 L845.2 704.8 L846.5 704.8 L847.8 704.8 L849.2 704.9 L850.5 704.9 L851.8 704.9 L853.1 704.9 L854.4 704.9 L855.8 704.9 L857.1 704.9 L858.4 704.9 L859.7 704.9 L861.1 704.9 L862.4 704.9 L863.7 704.9 L865.0 704.9 L866.3 704.9 L867.7 704.9 L869.0 704.9 L870.3 704.9 L871.6 704.9 L873.0 704.9 L874.3 704.9 L875.6 704.9 L876.9 704.9 L878.2 704.9 L879.6 704.9 L880.9 704.9 L882.2 704.9 L883.5 704.9 L884.9 704.9 L886.2 704.9 L887.5 704.9 L888.8 704.9 L890.1 704.9 L891.5 704.9 L892.8 704.9 L894.1 704.9 L895.4 704.9 L896.8 704.9 L898.1 704.9 L899.4 704.9 L900.7 704.9 L902.0 704.9 L903.4 704.9 L904.7 704.9 L906.0 704.9 L907.3 704.9 L908.7 704.9 L910.0 704.9 L911.3 704.9 L912.6 704.9 L913.9 704.9 L915.3 704.9 L916.6 704.9 L917.9 704.9 L919.2 704.9 L920.6 704.9 L921.9 704.9 L923.2 704.9 L924.5 704.9 L925.8 704.9 L927.2 704.9 L928.5 704.9 L929.8 704.9 L931.1 704.9 L932.5 705.0 L933.8 705.0 L935.1 705.0 L936.4 705.0 L937.7 705.0 L939.1 705.0 L940.4 705.0 L941.7 705.0 L943.0 705.0 L944.3 705.0 L945.7 705.0 L947.0 705.0 L948.3 705.0 L949.6 705.0 L951.0 705.0 L952.3 705.0 L953.6 705.0 L954.9 705.0 L956.2 705.0 L957.6 705.0 L958.9 705.0 L960.2 705.0 L961.5 705.0 L962.9 705.0 L964.2 705.0 L965.5 705.0 L966.8 705.0 L968.1 705.0 L969.5 705.0 L970.8 705.0 L972.1 705.0 L973.4 705.0 L974.8 705.0 L976.1 705.0 L977.4 705.0 L978.7 705.0 L980.0 705.0 L981.4 705.0 L982.7 705.0 L984.0 705.0 L985.3 705.0 L986.7 705.0 L988.0 705.0 L989.3 705.0 L990.6 705.0 L991.9 705.0 L993.3 705.0 L994.6 705.0 L995.9 705.0 L997.2 705.0 L998.6 705.0 L999.9 705.0 L1001.2 705.0 L1002.5 705.0 L1003.8 705.0 L1005.2 705.0 L1006.5 705.0 L1007.8 705.0 L1009.1 705.0 L1010.5 705.0 L1011.8 705.0 L1013.1 705.0 L1014.4 705.0" stroke="#ff0000" stroke-width="4.75"/>
<path d="M90.3 704.5 L91.6 704.5 L92.9 704.5 L94.3 704.5 L95.6 704.5 L96.9 704.5 L98.2 704.5 L99.6 704.5 L100.9 704.5 L102.2 704.5 L103.5 704.4 L104.8 704.4 L106.2 704.4 L107.5 704.4 L108.8 704.4 L110.1 704.4 L111.5 704.4 L112.8 704.4 L114.1 704.3 L115.4 704.3 L116.7 704.3 L118.1 704.3 L119.4 704.3 L120.7 704.3 L122.0 704.2 L123.4 704.2 L124.7 704.2 L126.0 704.2 L127.3 704.2 L128.6 704.2 L130.0 704.1 L131.3 704.1 L132.6 704.1 L133.9 704.1 L135.2 704.1 L136.6 704.1 L137.9 704.0 L139.2 704.0 L140.5 704.0 L141.9 704.0 L143.2 703.9 L144.5 703.9 L145.8 703.9 L147.1 703.9 L148.5 703.8 L149.8 703.8 L151.1 703.8 L152.4 703.8 L153.8 703.7 L155.1 703.7 L156.4 703.7 L157.7 703.7 L159.0 703.6 L160.4 703.6 L161.7 703.6 L163.0 703.5 L164.3 703.5 L165.7 703.5 L167.0 703.4 L168.3 703.4 L169.6 703.4 L170.9 703.3 L172.3 703.3 L173.6 703.3 L174.9 703.2 L176.2 703.2 L177.6 703.1 L178.9 703.1 L180.2 703.1 L181.5 703.0 L182.8 703.0 L184.2 702.9 L185.5 702.9 L186.8 702.8 L188.1 702.8 L189.5 702.7 L190.8 702.7 L192.1 702.6 L193.4 702.6 L194.7 702.5 L196.1 702.5 L197.4 702.4 L198.7 702.4 L200.0 702.3 L201.4 702.2 L202.7 702.2 L204.0 702.1 L205.3 702.1 L206.6 702.0 L208.0 701.9 L209.3 701.9 L210.6 701.8 L211.9 701.7 L213.3 701.6 L214.6 701.6 L215.9 701.5 L217.2 701.4 L218.5 701.3 L219.9 701.2 L221.2 701.2 L222.5 701.1 L223.8 701.0 L225.1 700.9 L226.5 700.8 L227.8 700.7 L229.1 700.6 L230.4 700.5 L231.8 700.4 L233.1 700.3 L234.4 700.2 L235.7 700.1 L237.0 700.0 L238.4 699.9 L239.7 699.8 L241.0 699.6 L242.3 699.5 L243.7 699.4 L245.0 699.3 L246.3 699.1 L247.6 699.0 L248.9 698.9 L250.3 698.7 L251.6 698.6 L252.9 698.4 L254.2 698.3 L255.6 698.1 L256.9 698.0 L258.2 697.8 L259.5 697.6 L260.8 697.5 L262.2 697.3 L263.5 697.1 L264.8 696.9 L266.1 696.8 L267.5 696.6 L268.8 696.4 L270.1 696.2 L271.4 696.0 L272.7 695.8 L274.1 695.6 L275.4 695.3 L276.7 695.1 L278.0 694.9 L279.4 694.7 L280.7 694.4 L282.0 694.2 L283.3 693.9 L284.6 693.7 L286.0 693.4 L287.3 693.1 L288.6 692.9 L289.9 692.6 L291.3 692.3 L292.6 692.0 L293.9 691.7 L295.2 691.4 L296.5 691.0 L297.9 690.7 L299.2 690.4 L300.5 690.0 L301.8 689.7 L303.2 689.3 L304.5 689.0 L305.8 688.6 L307.1 688.2 L308.4 687.8 L309.8 687.4 L311.1 687.0 L312.4 686.5 L313.7 686.1 L315.0 685.6 L316.4 685.2 L317.7 684.7 L319.0 684.2 L320.3 683.7 L321.7 683.2 L323.0 682.7 L324.3 682.1 L325.6 681.6 L326.9 681.0 L328.3 680.4 L329.6 679.8 L330.9 679.2 L332.2 678.6 L333.6 677.9 L334.9 677.3 L336.2 676.6 L337.5 675.9 L338.8 675.2 L340.2 674.4 L341.5 673.7 L342.8 672.9 L344.1 672.1 L345.5 671.3 L346.8 670.5 L348.1 669.6 L349.4 668.7 L350.7 667.8 L352.1 666.8 L353.4 665.9 L354.7 664.9 L356.0 663.9 L357.4 662.8 L358.7 661.7 L360.0 660.6 L361.3 659.5 L362.6 658.3 L364.0 657.1 L365.3 655.9 L366.6 654.6 L367.9 653.3 L369.3 651.9 L370.6 650.5 L371.9 649.1 L373.2 647.6 L374.5 646.1 L375.9 644.5 L377.2 642.9 L378.5 641.3 L379.8 639.6 L381.2 637.8 L382.5 636.0 L383.8 634.1 L385.1 632.2 L386.4 630.2 L387.8 628.2 L389.1 626.1 L390.4 623.9 L391.7 621.7 L393.1 619.4 L394.4 617.0 L395.7 614.5 L397.0 612.0 L398.3 609.4 L399.7 606.7 L401.0 603.9 L402.3 601.0 L403.6 598.0 L404.9 595.0 L406.3 591.8 L407.6 588.6 L408.9 585.2 L410.2 581.7 L411.6 578.1 L412.9 574.4 L414.2 570.6 L415.5 566.7 L416.8 562.6 L418.2 558.4 L419.5 554.0 L420.8 549.5 L422.1 544.9 L423.5 540.1 L424.8 535.1 L426.1 530.0 L427.4 524.8 L428.7 519.3 L430.1 513.7 L431.4 508.0 L432.7 502.0 L434.0 495.9 L435.4 489.5 L436.7 483.0 L438.0 476.3 L439.3 469.4 L440.6 462.3 L442.0 455.0 L443.3 447.6 L444.6 439.9 L445.9 432.1 L447.3 424.1 L448.6 415.9 L449.9 407.6 L451.2 399.2 L452.5 390.7 L453.9 382.0 L455.2 373.4 L456.5 364.7 L457.8 356.0 L459.2 347.5 L460.5 339.0 L461.8 330.8 L463.1 322.8 L464.4 315.1 L465.8 307.9 L467.1 301.2 L468.4 295.1 L469.7 289.7 L471.1 285.1 L472.4 281.3 L473.7 278.5 L475.0 276.6 L476.3 275.7 L477.7 275.9 L479.0 277.1 L480.3 279.3 L481.6 282.4 L483.0 286.4 L484.3 291.3 L485.6 296.9 L486.9 303.2 L488.2 310.1 L489.6 317.4 L490.9 325.2 L492.2 333.3 L493.5 341.6 L494.8 350.1 L496.2 358.7 L497.5 367.4 L498.8 376.0 L500.1 384.7 L501.5 393.3 L502.8 401.8 L504.1 410.2 L505.4 418.5 L506.7 426.6 L508.1 434.5 L509.4 442.3 L510.7 449.9 L512.0 457.3 L513.4 464.5 L514.7 471.6 L516.0 478.4 L517.3 485.1 L518.6 491.5 L520.0 497.8 L521.3 503.9 L522.6 509.8 L523.9 515.5 L525.3 521.1 L526.6 526.4 L527.9 531.7 L529.2 536.7 L530.5 541.6 L531.9 546.4 L533.2 550.9 L534.5 555.4 L535.8 559.7 L537.2 563.9 L538.5 567.9 L539.8 571.8 L541.1 575.6 L542.4 579.3 L543.8 582.8 L545.1 586.3 L546.4 589.6 L547.7 592.9 L549.1 596.0 L550.4 599.0 L551.7 601.9 L553.0 604.8 L554.3 607.6 L555.7 610.2 L557.0 612.8 L558.3 615.3 L559.6 617.8 L561.0 620.1 L562.3 622.4 L563.6 624.6 L564.9 626.8 L566.2 628.9 L567.6 630.9 L568.9 632.9 L570.2 634.8 L571.5 636.6 L572.9 638.4 L574.2 640.2 L575.5 641.8 L576.8 643.5 L578.1 645.1 L579.5 646.6 L580.8 648.1 L582.1 649.6 L583.4 651.0 L584.7 652.4 L586.1 653.7 L587.4 655.0 L588.7 656.3 L590.0 657.5 L591.4 658.7 L592.7 659.9 L594.0 661.0 L595.3 662.1 L596.6 663.2 L598.0 664.2 L599.3 665.2 L600.6 666.2 L601.9 667.2 L603.3 668.1 L604.6 669.0 L605.9 669.9 L607.2 670.8 L608.5 671.6 L609.9 672.4 L611.2 673.2 L612.5 674.0 L613.8 674.7 L615.2 675.5 L616.5 676.2 L617.8 676.9 L619.1 677.5 L620.4 678.2 L621.8 678.8 L623.1 679.5 L624.4 680.1 L625.7 680.7 L627.1 681.2 L628.4 681.8 L629.7 682.4 L631.0 682.9 L632.3 683.4 L633.7 683.9 L635.0 684.4 L636.3 684.9 L637.6 685.4 L639.0 685.8 L640.3 686.3 L641.6 686.7 L642.9 687.1 L644.2 687.6 L645.6 688.0 L646.9 688.4 L648.2 688.8 L649.5 689.1 L650.9 689.5 L652.2 689.9 L653.5 690.2 L654.8 690.5 L656.1 690.9 L657.5 691.2 L658.8 691.5 L660.1 691.8 L661.4 692.1 L662.8 692.4 L664.1 692.7 L665.4 693.0 L666.7 693.3 L668.0 693.5 L669.4 693.8 L670.7 694.1 L672.0 694.3 L673.3 694.5 L674.6 694.8 L676.0 695.0 L677.3 695.2 L678.6 695.5 L679.9 695.7 L681.3 695.9 L682.6 696.1 L683.9 696.3 L685.2 696.5 L686.5 696.7 L687.9 696.9 L689.2 697.1 L690.5 697.2 L691.8 697.4 L693.2 697.6 L694.5 697.8 L695.8 697.9 L697.1 698.1 L698.4 698.2 L699.8 698.4 L701.1 698.5 L702.4 698.7 L703.7 698.8 L705.1 699.0 L706.4 699.1 L707.7 699.2 L709.0 699.4 L710.3 699.5 L711.7 699.6 L713.0 699.7 L714.3 699.8 L715.6 700.0 L717.0 700.1 L718.3 700.2 L719.6 700.3 L720.9 700.4 L722.2 700.5 L723.6 700.6 L724.9 700.7 L726.2 700.8 L727.5 700.9 L728.9 701.0 L730.2 701.1 L731.5 701.2 L732.8 701.2 L734.1 701.3 L735.5 701.4 L736.8 701.5 L738.1 701.6 L739.4 701.6 L740.8 701.7 L742.1 701.8 L743.4 701.9 L744.7 701.9 L746.0 702.0 L747.4 702.1 L748.7 702.1 L750.0 702.2 L751.3 702.3 L752.7 702.3 L754.0 702.4 L755.3 702.4 L756.6 702.5 L757.9 702.5 L759.3 702.6 L760.6 702.7 L761.9 702.7 L763.2 702.8 L764.5 702.8 L765.9 702.9 L767.2 702.9 L768.5 703.0 L769.8 703.0 L771.2 703.0 L772.5 703.1 L773.8 703.1 L775.1 703.2 L776.4 703.2 L777.8 703.3 L779.1 703.3 L780.4 703.3 L781.7 703.4 L783.1 703.4 L784.4 703.4 L785.7 703.5 L787.0 703.5 L788.3 703.5 L789.7 703.6 L791.0 703.6 L792.3 703.6 L793.6 703.7 L795.0 703.7 L796.3 703.7 L797.6 703.8 L798.9 703.8 L800.2 703.8 L801.6 703.8 L802.9 703.9 L804.2 703.9 L805.5 703.9 L806.9 703.9 L808.2 704.0 L809.5 704.0 L810.8 704.0 L812.1 704.0 L813.5 704.0 L814.8 704.1 L816.1 704.1 L817.4 704.1 L818.8 704.1 L820.1 704.2 L821.4 704.2 L822.7 704.2 L824.0 704.2 L825.4 704.2 L826.7 704.2 L828.0 704.3 L829.3 704.3 L830.7 704.3 L832.0 704.3 L833.3 704.3 L834.6 704.3 L835.9 704.4 L837.3 704.4 L838.6 704.4 L839.9 704.4 L841.2 704.4 L842.6 704.4 L843.9 704.4 L845.2 704.5 L846.5 704.5 L847.8 704.5 L849.2 704.5 L850.5 704.5 L851.8 704.5 L853.1 704.5 L854.4 704.5 L855.8 704.5 L857.1 704.6 L858.4 704.6 L859.7 704.6 L861.1 704.6 L862.4 704.6 L863.7 704.6 L865.0 704.6 L866.3 704.6 L867.7 704.6 L869.0 704.6 L870.3 704.6 L871.6 704.7 L873.0 704.7 L874.3 704.7 L875.6 704.7 L876.9 704.7 L878.2 704.7 L879.6 704.7 L880.9 704.7 L882.2 704.7 L883.5 704.7 L884.9 704.7 L886.2 704.7 L887.5 704.7 L888.8 704.7 L890.1 704.8 L891.5 704.8 L892.8 704.8 L894.1 704.8 L895.4 704.8 L896.8 704.8 L898.1 704.8 L899.4 704.8 L900.7 704.8 L902.0 704.8 L903.4 704.8 L904.7 704.8 L906.0 704.8 L907.3 704.8 L908.7 704.8 L910.0 704.8 L911.3 704.8 L912.6 704.8 L913.9 704.8 L915.3 704.8 L916.6 704.8 L917.9 704.9 L919.2 704.9 L920.6 704.9 L921.9 704.9 L923.2 704.9 L924.5 704.9 L925.8 704.9 L927.2 704.9 L928.5 704.9 L929.8 704.9 L931.1 704.9 L932.5 704.9 L933.8 704.9 L935.1 704.9 L936.4 704.9 L937.7 704.9 L939.1 704.9 L940.4 704.9 L941.7 704.9 L943.0 704.9 L944.3 704.9 L945.7 704.9 L947.0 704.9 L948.3 704.9 L949.6 704.9 L951.0 704.9 L952.3 704.9 L953.6 704.9 L954.9 704.9 L956.2 704.9 L957.6 704.9 L958.9 704.9 L960.2 704.9 L961.5 704.9 L962.9 704.9 L964.2 704.9 L965.5 704.9 L966.8 704.9 L968.1 704.9 L969.5 704.9 L970.8 704.9 L972.1 704.9 L973.4 705.0 L974.8 705.0 L976.1 705.0 L977.4 705.0 L978.7 705.0 L980.0 705.0 L981.4 705.0 L982.7 705.0 L984.0 705.0 L985.3 705.0 L986.7 705.0 L988.0 705.0 L989.3 705.0 L990.6 705.0 L991.9 705.0 L993.3 705.0 L994.6 705.0 L995.9 705.0 L997.2 705.0 L998.6 705.0 L999.9 705.0 L1001.2 705.0 L1002.5 705.0 L1003.8 705.0 L1005.2 705.0 L1006.5 705.0 L1007.8 705.0 L1009.1 705.0 L1010.5 705.0 L1011.8 705.0 L1013.1 705.0 L1014.4 705.0" stroke="#00ffff" stroke-width="4.75"/>
<path d="M90.3 704.9 L91.6 704.9 L92.9 704.9 L94.3 704.9 L95.6 704.9 L96.9 704.9 L98.2 704.8 L99.6 704.8 L100.9 704.8 L102.2 704.8 L103.5 704.8 L104.8 704.8 L106.2 704.8 L107.5 704.8 L108.8 704.8 L110.1 704.8 L111.5 704.8 L112.8 704.8 L114.1 704.8 L115.4 704.8 L116.7 704.8 L118.1 704.8 L119.4 704.8 L120.7 704.8 L122.0 704.8 L123.4 704.8 L124.7 704.8 L126.0 704.8 L127.3 704.8 L128.6 704.8 L130.0 704.8 L131.3 704.8 L132.6 704.8 L133.9 704.8 L135.2 704.7 L136.6 704.7 L137.9 704.7 L139.2 704.7 L140.5 704.7 L141.9 704.7 L143.2 704.7 L144.5 704.7 L145.8 704.7 L147.1 704.7 L148.5 704.7 L149.8 704.7 L151.1 704.7 L152.4 704.7 L153.8 704.7 L155.1 704.7 L156.4 704.7 L157.7 704.6 L159.0 704.6 L160.4 704.6 L161.7 704.6 L163.0 704.6 L164.3 704.6 L165.7 704.6 L167.0 704.6 L168.3 704.6 L169.6 704.6 L170.9 704.6 L172.3 704.6 L173.6 704.5 L174.9 704.5 L176.2 704.5 L177.6 704.5 L178.9 704.5 L180.2 704.5 L181.5 704.5 L182.8 704.5 L184.2 704.5 L185.5 704.5 L186.8 704.4 L188.1 704.4 L189.5 704.4 L190.8 704.4 L192.1 704.4 L193.4 704.4 L194.7 704.4 L196.1 704.4 L197.4 704.3 L198.7 704.3 L200.0 704.3 L201.4 704.3 L202.7 704.3 L204.0 704.3 L205.3 704.2 L206.6 704.2 L208.0 704.2 L209.3 704.2 L210.6 704.2 L211.9 704.2 L213.3 704.1 L214.6 704.1 L215.9 704.1 L217.2 704.1 L218.5 704.1 L219.9 704.1 L221.2 704.0 L222.5 704.0 L223.8 704.0 L225.1 704.0 L226.5 703.9 L227.8 703.9 L229.1 703.9 L230.4 703.9 L231.8 703.8 L233.1 703.8 L234.4 703.8 L235.7 703.8 L237.0 703.7 L238.4 703.7 L239.7 703.7 L241.0 703.7 L242.3 703.6 L243.7 703.6 L245.0 703.6 L246.3 703.5 L247.6 703.5 L248.9 703.5 L250.3 703.4 L251.6 703.4 L252.9 703.4 L254.2 703.3 L255.6 703.3 L256.9 703.3 L258.2 703.2 L259.5 703.2 L260.8 703.1 L262.2 703.1 L263.5 703.1 L264.8 703.0 L266.1 703.0 L267.5 702.9 L268.8 702.9 L270.1 702.8 L271.4 702.8 L272.7 702.7 L274.1 702.7 L275.4 702.6 L276.7 702.6 L278.0 702.5 L279.4 702.5 L280.7 702.4 L282.0 702.4 L283.3 702.3 L284.6 702.2 L286.0 702.2 L287.3 702.1 L288.6 702.1 L289.9 702.0 L291.3 701.9 L292.6 701.9 L293.9 701.8 L295.2 701.7 L296.5 701.6 L297.9 701.6 L299.2 701.5 L300.5 701.4 L301.8 701.3 L303.2 701.2 L304.5 701.2 L305.8 701.1 L307.1 701.0 L308.4 700.9 L309.8 700.8 L311.1 700.7 L312.4 700.6 L313.7 700.5 L315.0 700.4 L316.4 700.3 L317.7 700.2 L319.0 700.1 L320.3 700.0 L321.7 699.9 L323.0 699.8 L324.3 699.6 L325.6 699.5 L326.9 699.4 L328.3 699.3 L329.6 699.1 L330.9 699.0 L332.2 698.9 L333.6 698.7 L334.9 698.6 L336.2 698.4 L337.5 698.3 L338.8 698.1 L340.2 698.0 L341.5 697.8 L342.8 697.7 L344.1 697.5 L345.5 697.3 L346.8 697.1 L348.1 697.0 L349.4 696.8 L350.7 696.6 L352.1 696.4 L353.4 696.2 L354.7 696.0 L356.0 695.8 L357.4 695.6 L358.7 695.4 L360.0 695.1 L361.3 694.9 L362.6 694.7 L364.0 694.4 L365.3 694.2 L366.6 693.9 L367.9 693.7 L369.3 693.4 L370.6 693.1 L371.9 692.9 L373.2 692.6 L374.5 692.3 L375.9 692.0 L377.2 691.7 L378.5 691.4 L379.8 691.1 L381.2 690.7 L382.5 690.4 L383.8 690.1 L385.1 689.7 L386.4 689.3 L387.8 689.0 L389.1 688.6 L390.4 688.2 L391.7 687.8 L393.1 687.4 L394.4 687.0 L395.7 686.6 L397.0 686.1 L398.3 685.7 L399.7 685.2 L401.0 684.7 L402.3 684.2 L403.6 683.7 L404.9 683.2 L406.3 682.7 L407.6 682.2 L408.9 681.6 L410.2 681.0 L411.6 680.5 L412.9 679.9 L414.2 679.3 L415.5 678.6 L416.8 678.0 L418.2 677.3 L419.5 676.6 L420.8 675.9 L422.1 675.2 L423.5 674.5 L424.8 673.7 L426.1 673.0 L427.4 672.2 L428.7 671.3 L430.1 670.5 L431.4 669.6 L432.7 668.7 L434.0 667.8 L435.4 666.9 L436.7 665.9 L438.0 664.9 L439.3 663.9 L440.6 662.9 L442.0 661.8 L443.3 660.7 L444.6 659.6 L445.9 658.4 L447.3 657.2 L448.6 655.9 L449.9 654.7 L451.2 653.4 L452.5 652.0 L453.9 650.6 L455.2 649.2 L456.5 647.7 L457.8 646.2 L459.2 644.6 L460.5 643.0 L461.8 641.4 L463.1 639.7 L464.4 637.9 L465.8 636.1 L467.1 634.2 L468.4 632.3 L469.7 630.4 L471.1 628.3 L472.4 626.2 L473.7 624.0 L475.0 621.8 L476.3 619.5 L477.7 617.1 L479.0 614.7 L480.3 612.1 L481.6 609.5 L483.0 606.8 L484.3 604.1 L485.6 601.2 L486.9 598.2 L488.2 595.2 L489.6 592.0 L490.9 588.8 L492.2 585.4 L493.5 582.0 L494.8 578.4 L496.2 574.7 L497.5 570.9 L498.8 566.9 L500.1 562.9 L501.5 558.7 L502.8 554.3 L504.1 549.8 L505.4 545.2 L506.7 540.4 L508.1 535.5 L509.4 530.4 L510.7 525.2 L512.0 519.7 L513.4 514.2 L514.7 508.4 L516.0 502.4 L517.3 496.3 L518.6 490.0 L520.0 483.5 L521.3 476.8 L522.6 469.9 L523.9 462.9 L525.3 455.6 L526.6 448.1 L527.9 440.5 L529.2 432.7 L530.5 424.7 L531.9 416.6 L533.2 408.3 L534.5 399.9 L535.8 391.3 L537.2 382.7 L538.5 374.1 L539.8 365.4 L541.1 356.7 L542.4 348.1 L543.8 339.7 L545.1 331.4 L546.4 323.4 L547.7 315.8 L549.1 308.5 L550.4 301.8 L551.7 295.6 L553.0 290.2 L554.3 285.5 L555.7 281.6 L557.0 278.7 L558.3 276.7 L559.6 275.8 L561.0 275.8 L562.3 276.9 L563.6 279.0 L564.9 282.1 L566.2 286.1 L567.6 290.9 L568.9 296.4 L570.2 302.7 L571.5 309.5 L572.9 316.8 L574.2 324.5 L575.5 332.6 L576.8 340.9 L578.1 349.4 L579.5 358.0 L580.8 366.6 L582.1 375.3 L583.4 384.0 L584.7 392.6 L586.1 401.1 L587.4 409.5 L588.7 417.8 L590.0 425.9 L591.4 433.9 L592.7 441.7 L594.0 449.3 L595.3 456.7 L596.6 464.0 L598.0 471.0 L599.3 477.9 L600.6 484.5 L601.9 491.0 L603.3 497.3 L604.6 503.4 L605.9 509.3 L607.2 515.1 L608.5 520.6 L609.9 526.0 L611.2 531.3 L612.5 536.4 L613.8 541.3 L615.2 546.0 L616.5 550.6 L617.8 555.1 L619.1 559.4 L620.4 563.6 L621.8 567.7 L623.1 571.6 L624.4 575.4 L625.7 579.1 L627.1 582.6 L628.4 586.1 L629.7 589.4 L631.0 592.7 L632.3 595.8 L633.7 598.9 L635.0 601.8 L636.3 604.7 L637.6 607.4 L639.0 610.1 L640.3 612.7 L641.6 615.2 L642.9 617.7 L644.2 620.0 L645.6 622.3 L646.9 624.6 L648.2 626.7 L649.5 628.8 L650.9 630.8 L652.2 632.8 L653.5 634.7 L654.8 636.6 L656.1 638.4 L657.5 640.1 L658.8 641.8 L660.1 643.5 L661.4 645.1 L662.8 646.6 L664.1 648.1 L665.4 649.6 L666.7 651.0 L668.0 652.4 L669.4 653.8 L670.7 655.1 L672.0 656.3 L673.3 657.6 L674.6 658.8 L676.0 659.9 L677.3 661.1 L678.6 662.2 L679.9 663.2 L681.3 664.3 L682.6 665.3 L683.9 666.3 L685.2 667.3 L686.5 668.2 L687.9 669.1 L689.2 670.0 L690.5 670.8 L691.8 671.7 L693.2 672.5 L694.5 673.3 L695.8 674.1 L697.1 674.8 L698.4 675.5 L699.8 676.3 L701.1 677.0 L702.4 677.6 L703.7 678.3 L705.1 678.9 L706.4 679.6 L707.7 680.2 L709.0 680.8 L710.3 681.4 L711.7 681.9 L713.0 682.5 L714.3 683.0 L715.6 683.5 L717.0 684.0 L718.3 684.5 L719.6 685.0 L720.9 685.5 L722.2 686.0 L723.6 686.4 L724.9 686.8 L726.2 687.3 L727.5 687.7 L728.9 688.1 L730.2 688.5 L731.5 688.9 L732.8 689.3 L734.1 689.6 L735.5 690.0 L736.8 690.3 L738.1 690.7 L739.4 691.0 L740.8 691.3 L742.1 691.7 L743.4 692.0 L744.7 692.3 L746.0 692.6 L747.4 692.9 L748.7 693.1 L750.0 693.4 L751.3 693.7 L752.7 693.9 L754.0 694.2 L755.3 694.4 L756.6 694.7 L757.9 694.9 L759.3 695.2 L760.6 695.4 L761.9 695.6 L763.2 695.8 L764.5 696.0 L765.9 696.2 L767.2 696.4 L768.5 696.6 L769.8 696.8 L771.2 697.0 L772.5 697.2 L773.8 697.4 L775.1 697.6 L776.4 697.7 L777.8 697.9 L779.1 698.1 L780.4 698.2 L781.7 698.4 L783.1 698.5 L784.4 698.7 L785.7 698.8 L787.0 699.0 L788.3 699.1 L789.7 699.2 L791.0 699.4 L792.3 699.5 L793.6 699.6 L795.0 699.8 L796.3 699.9 L797.6 700.0 L798.9 700.1 L800.2 700.2 L801.6 700.3 L802.9 700.4 L804.2 700.5 L805.5 700.7 L806.9 700.8 L808.2 700.9 L809.5 700.9 L810.8 701.0 L812.1 701.1 L813.5 701.2 L814.8 701.3 L816.1 701.4 L817.4 701.5 L818.8 701.6 L820.1 701.6 L821.4 701.7 L822.7 701.8 L824.0 701.9 L825.4 701.9 L826.7 702.0 L828.0 702.1 L829.3 702.2 L830.7 702.2 L832.0 702.3 L833.3 702.4 L834.6 702.4 L835.9 702.5 L837.3 702.5 L838.6 702.6 L839.9 702.7 L841.2 702.7 L842.6 702.8 L843.9 702.8 L845.2 702.9 L846.5 702.9 L847.8 703.0 L849.2 703.0 L850.5 703.1 L851.8 703.1 L853.1 703.2 L854.4 703.2 L855.8 703.2 L857.1 703.3 L858.4 703.3 L859.7 703.4 L861.1 703.4 L862.4 703.5 L863.7 703.5 L865.0 703.5 L866.3 703.6 L867.7 703.6 L869.0 703.6 L870.3 703.7 L871.6 703.7 L873.0 703.7 L874.3 703.8 L875.6 703.8 L876.9 703.8 L878.2 703.9 L879.6 703.9 L880.9 703.9 L882.2 703.9 L883.5 704.0 L884.9 704.0 L886.2 704.0 L887.5 704.0 L888.8 704.1 L890.1 704.1 L891.5 704.1 L892.8 704.1 L894.1 704.2 L895.4 704.2 L896.8 704.2 L898.1 704.2 L899.4 704.3 L900.7 704.3 L902.0 704.3 L903.4 704.3 L904.7 704.3 L906.0 704.3 L907.3 704.4 L908.7 704.4 L910.0 704.4 L911.3 704.4 L912.6 704.4 L913.9 704.5 L915.3 704.5 L916.6 704.5 L917.9 704.5 L919.2 704.5 L920.6 704.5 L921.9 704.5 L923.2 704.6 L924.5 704.6 L925.8 704.6 L927.2 704.6 L928.5 704.6 L929.8 704.6 L931.1 704.6 L932.5 704.6 L933.8 704.7 L935.1 704.7 L936.4 704.7 L937.7 704.7 L939.1 704.7 L940.4 704.7 L941.7 704.7 L943.0 704.7 L944.3 704.7 L945.7 704.7 L947.0 704.8 L948.3 704.8 L949.6 704.8 L951.0 704.8 L952.3 704.8 L953.6 704.8 L954.9 704.8 L956.2 704.8 L957.6 704.8 L958.9 704.8 L960.2 704.8 L961.5 704.8 L962.9 704.8 L964.2 704.9 L965.5 704.9 L966.8 704.9 L968.1 704.9 L969.5 704.9 L970.8 704.9 L972.1 704.9 L973.4 704.9 L974.8 704.9 L976.1 704.9 L977.4 704.9 L978.7 704.9 L980.0 704.9 L981.4 704.9 L982.7 704.9 L984.0 704.9 L985.3 704.9 L986.7 704.9 L988.0 704.9 L989.3 704.9 L990.6 704.9 L991.9 704.9 L993.3 704.9 L994.6 705.0 L995.9 705.0 L997.2 705.0 L998.6 705.0 L999.9 705.0 L1001.2 705.0 L1002.5 705.0 L1003.8 705.0 L1005.2 705.0 L1006.5 705.0 L1007.8 705.0 L1009.1 705.0 L1010.5 705.0 L1011.8 705.0 L1013.1 705.0 L1014.4 705.0" stroke="#ff00ff" stroke-width="4.75"/>
<path d="M90.3 704.9 L91.6 704.9 L92.9 704.9 L94.3 704.9 L95.6 704.9 L96.9 704.9 L98.2 704.9 L99.6 704.9 L100.9 704.9 L102.2 704.9 L103.5 704.9 L104.8 704.9 L106.2 704.9 L107.5 704.9 L108.8 704.9 L110.1 704.9 L111.5 704.9 L112.8 704.9 L114.1 704.9 L115.4 704.9 L116.7 704.9 L118.1 704.9 L119.4 704.9 L120.7 704.9 L122.0 704.9 L123.4 704.9 L124.7 704.9 L126.0 704.9 L127.3 704.9 L128.6 704.9 L130.0 704.9 L131.3 704.9 L132.6 704.9 L133.9 704.9 L135.2 704.9 L136.6 704.9 L137.9 704.9 L139.2 704.9 L140.5 704.9 L141.9 704.9 L143.2 704.9 L144.5 704.9 L145.8 704.9 L147.1 704.9 L148.5 704.9 L149.8 704.9 L151.1 704.9 L152.4 704.9 L153.8 704.9 L155.1 704.9 L156.4 704.9 L157.7 704.9 L159.0 704.9 L160.4 704.9 L161.7 704.9 L163.0 704.9 L164.3 704.9 L165.7 704.9 L167.0 704.9 L168.3 704.9 L169.6 704.9 L170.9 704.9 L172.3 704.9 L173.6 704.9 L174.9 704.9 L176.2 704.9 L177.6 704.9 L178.9 704.9 L180.2 704.9 L181.5 704.8 L182.8 704.8 L184.2 704.8 L185.5 704.8 L186.8 704.8 L188.1 704.8 L189.5 704.8 L190.8 704.8 L192.1 704.8 L193.4 704.8 L194.7 704.8 L196.1 704.8 L197.4 704.8 L198.7 704.8 L200.0 704.8 L201.4 704.8 L202.7 704.8 L204.0 704.8 L205.3 704.8 L206.6 704.8 L208.0 704.8 L209.3 704.8 L210.6 704.8 L211.9 704.8 L213.3 704.8 L214.6 704.8 L215.9 704.8 L217.2 704.8 L218.5 704.7 L219.9 704.7 L221.2 704.7 L222.5 704.7 L223.8 704.7 L225.1 704.7 L226.5 704.7 L227.8 704.7 L229.1 704.7 L230.4 704.7 L231.8 704.7 L233.1 704.7 L234.4 704.7 L235.7 704.7 L237.0 704.7 L238.4 704.7 L239.7 704.7 L241.0 704.6 L242.3 704.6 L243.7 704.6 L245.0 704.6 L246.3 704.6 L247.6 704.6 L248.9 704.6 L250.3 704.6 L251.6 704.6 L252.9 704.6 L254.2 704.6 L255.6 704.6 L256.9 704.5 L258.2 704.5 L259.5 704.5 L260.8 704.5 L262.2 704.5 L263.5 704.5 L264.8 704.5 L266.1 704.5 L267.5 704.5 L268.8 704.5 L270.1 704.4 L271.4 704.4 L272.7 704.4 L274.1 704.4 L275.4 704.4 L276.7 704.4 L278.0 704.4 L279.4 704.3 L280.7 704.3 L282.0 704.3 L283.3 704.3 L284.6 704.3 L286.0 704.3 L287.3 704.3 L288.6 704.2 L289.9 704.2 L291.3 704.2 L292.6 704.2 L293.9 704.2 L295.2 704.2 L296.5 704.1 L297.9 704.1 L299.2 704.1 L300.5 704.1 L301.8 704.1 L303.2 704.0 L304.5 704.0 L305.8 704.0 L307.1 704.0 L308.4 704.0 L309.8 703.9 L311.1 703.9 L312.4 703.9 L313.7 703.9 L315.0 703.8 L316.4 703.8 L317.7 703.8 L319.0 703.8 L320.3 703.7 L321.7 703.7 L323.0 703.7 L324.3 703.7 L325.6 703.6 L326.9 703.6 L328.3 703.6 L329.6 703.5 L330.9 703.5 L332.2 703.5 L333.6 703.4 L334.9 703.4 L336.2 703.4 L337.5 703.3 L338.8 703.3 L340.2 703.3 L341.5 703.2 L342.8 703.2 L344.1 703.1 L345.5 703.1 L346.8 703.1 L348.1 703.0 L349.4 703.0 L350.7 702.9 L352.1 702.9 L353.4 702.8 L354.7 702.8 L356.0 702.7 L357.4 702.7 L358.7 702.6 L360.0 702.6 L361.3 702.5 L362.6 702.5 L364.0 702.4 L365.3 702.4 L366.6 702.3 L367.9 702.2 L369.3 702.2 L370.6 702.1 L371.9 702.0 L373.2 702.0 L374.5 701.9 L375.9 701.8 L377.2 701.8 L378.5 701.7 L379.8 701.6 L381.2 701.5 L382.5 701.5 L383.8 701.4 L385.1 701.3 L386.4 701.2 L387.8 701.1 L389.1 701.1 L390.4 701.0 L391.7 700.9 L393.1 700.8 L394.4 700.7 L395.7 700.6 L397.0 700.5 L398.3 700.4 L399.7 700.3 L401.0 700.2 L402.3 700.1 L403.6 700.0 L404.9 699.8 L406.3 699.7 L407.6 699.6 L408.9 699.5 L410.2 699.4 L411.6 699.2 L412.9 699.1 L414.2 699.0 L415.5 698.8 L416.8 698.7 L418.2 698.5 L419.5 698.4 L420.8 698.3 L422.1 698.1 L423.5 697.9 L424.8 697.8 L426.1 697.6 L427.4 697.4 L428.7 697.3 L430.1 697.1 L431.4 696.9 L432.7 696.7 L434.0 696.5 L435.4 696.3 L436.7 696.1 L438.0 695.9 L439.3 695.7 L440.6 695.5 L442.0 695.3 L443.3 695.1 L444.6 694.8 L445.9 694.6 L447.3 694.4 L448.6 694.1 L449.9 693.9 L451.2 693.6 L452.5 693.4 L453.9 693.1 L455.2 692.8 L456.5 692.5 L457.8 692.2 L459.2 691.9 L460.5 691.6 L461.8 691.3 L463.1 691.0 L464.4 690.7 L465.8 690.3 L467.1 690.0 L468.4 689.6 L469.7 689.3 L471.1 688.9 L472.4 688.5 L473.7 688.1 L475.0 687.7 L476.3 687.3 L477.7 686.9 L479.0 686.5 L480.3 686.0 L481.6 685.6 L483.0 685.1 L484.3 684.6 L485.6 684.1 L486.9 683.6 L488.2 683.1 L489.6 682.6 L490.9 682.1 L492.2 681.5 L493.5 680.9 L494.8 680.3 L496.2 679.7 L497.5 679.1 L498.8 678.5 L500.1 677.8 L501.5 677.2 L502.8 676.5 L504.1 675.8 L505.4 675.1 L506.7 674.3 L508.1 673.6 L509.4 672.8 L510.7 672.0 L512.0 671.2 L513.4 670.3 L514.7 669.5 L516.0 668.6 L517.3 667.7 L518.6 666.7 L520.0 665.7 L521.3 664.7 L522.6 663.7 L523.9 662.7 L525.3 661.6 L526.6 660.5 L527.9 659.3 L529.2 658.2 L530.5 657.0 L531.9 655.7 L533.2 654.4 L534.5 653.1 L535.8 651.8 L537.2 650.4 L538.5 648.9 L539.8 647.5 L541.1 645.9 L542.4 644.4 L543.8 642.8 L545.1 641.1 L546.4 639.4 L547.7 637.6 L549.1 635.8 L550.4 633.9 L551.7 632.0 L553.0 630.0 L554.3 628.0 L555.7 625.9 L557.0 623.7 L558.3 621.4 L559.6 619.1 L561.0 616.8 L562.3 614.3 L563.6 611.8 L564.9 609.1 L566.2 606.4 L567.6 603.7 L568.9 600.8 L570.2 597.8 L571.5 594.7 L572.9 591.6 L574.2 588.3 L575.5 585.0 L576.8 581.5 L578.1 577.9 L579.5 574.2 L580.8 570.4 L582.1 566.4 L583.4 562.3 L584.7 558.1 L586.1 553.8 L587.4 549.3 L588.7 544.6 L590.0 539.8 L591.4 534.9 L592.7 529.8 L594.0 524.5 L595.3 519.1 L596.6 513.5 L598.0 507.7 L599.3 501.8 L600.6 495.6 L601.9 489.3 L603.3 482.8 L604.6 476.1 L605.9 469.2 L607.2 462.1 L608.5 454.9 L609.9 447.4 L611.2 439.8 L612.5 432.0 L613.8 424.0 L615.2 415.8 L616.5 407.5 L617.8 399.1 L619.1 390.6 L620.4 382.0 L621.8 373.3 L623.1 364.7 L624.4 356.0 L625.7 347.5 L627.1 339.0 L628.4 330.8 L629.7 322.8 L631.0 315.2 L632.3 308.0 L633.7 301.3 L635.0 295.2 L636.3 289.8 L637.6 285.2 L639.0 281.4 L640.3 278.5 L641.6 276.6 L642.9 275.7 L644.2 275.9 L645.6 277.0 L646.9 279.2 L648.2 282.3 L649.5 286.4 L650.9 291.2 L652.2 296.8 L653.5 303.1 L654.8 309.9 L656.1 317.3 L657.5 325.0 L658.8 333.1 L660.1 341.4 L661.4 349.9 L662.8 358.5 L664.1 367.2 L665.4 375.9 L666.7 384.6 L668.0 393.2 L669.4 401.7 L670.7 410.1 L672.0 418.4 L673.3 426.5 L674.6 434.5 L676.0 442.2 L677.3 449.9 L678.6 457.3 L679.9 464.5 L681.3 471.6 L682.6 478.4 L683.9 485.1 L685.2 491.6 L686.5 497.9 L687.9 504.0 L689.2 509.9 L690.5 515.6 L691.8 521.2 L693.2 526.6 L694.5 531.8 L695.8 536.9 L697.1 541.8 L698.4 546.6 L699.8 551.2 L701.1 555.6 L702.4 560.0 L703.7 564.2 L705.1 568.2 L706.4 572.1 L707.7 575.9 L709.0 579.6 L710.3 583.2 L711.7 586.6 L713.0 590.0 L714.3 593.2 L715.6 596.4 L717.0 599.4 L718.3 602.4 L719.6 605.2 L720.9 608.0 L722.2 610.7 L723.6 613.3 L724.9 615.8 L726.2 618.2 L727.5 620.6 L728.9 622.9 L730.2 625.1 L731.5 627.3 L732.8 629.4 L734.1 631.4 L735.5 633.4 L736.8 635.3 L738.1 637.2 L739.4 639.0 L740.8 640.7 L742.1 642.4 L743.4 644.1 L744.7 645.7 L746.0 647.2 L747.4 648.7 L748.7 650.2 L750.0 651.6 L751.3 653.0 L752.7 654.4 L754.0 655.7 L755.3 656.9 L756.6 658.2 L757.9 659.4 L759.3 660.6 L760.6 661.7 L761.9 662.8 L763.2 663.9 L764.5 664.9 L765.9 665.9 L767.2 666.9 L768.5 667.9 L769.8 668.8 L771.2 669.7 L772.5 670.6 L773.8 671.5 L775.1 672.3 L776.4 673.1 L777.8 673.9 L779.1 674.7 L780.4 675.4 L781.7 676.2 L783.1 676.9 L784.4 677.6 L785.7 678.3 L787.0 678.9 L788.3 679.6 L789.7 680.2 L791.0 680.8 L792.3 681.4 L793.6 682.0 L795.0 682.6 L796.3 683.1 L797.6 683.6 L798.9 684.2 L800.2 684.7 L801.6 685.2 L802.9 685.7 L804.2 686.1 L805.5 686.6 L806.9 687.0 L808.2 687.5 L809.5 687.9 L810.8 688.3 L812.1 688.7 L813.5 689.1 L814.8 689.5 L816.1 689.9 L817.4 690.3 L818.8 690.6 L820.1 691.0 L821.4 691.3 L822.7 691.7 L824.0 692.0 L825.4 692.3 L826.7 692.6 L828.0 692.9 L829.3 693.2 L830.7 693.5 L832.0 693.8 L833.3 694.1 L834.6 694.3 L835.9 694.6 L837.3 694.8 L838.6 695.1 L839.9 695.3 L841.2 695.6 L842.6 695.8 L843.9 696.0 L845.2 696.3 L846.5 696.5 L847.8 696.7 L849.2 696.9 L850.5 697.1 L851.8 697.3 L853.1 697.5 L854.4 697.7 L855.8 697.9 L857.1 698.0 L858.4 698.2 L859.7 698.4 L861.1 698.6 L862.4 698.7 L863.7 698.9 L865.0 699.0 L866.3 699.2 L867.7 699.3 L869.0 699.5 L870.3 699.6 L871.6 699.8 L873.0 699.9 L874.3 700.0 L875.6 700.2 L876.9 700.3 L878.2 700.4 L879.6 700.5 L880.9 700.6 L882.2 700.8 L883.5 700.9 L884.9 701.0 L886.2 701.1 L887.5 701.2 L888.8 701.3 L890.1 701.4 L891.5 701.5 L892.8 701.6 L894.1 701.7 L895.4 701.8 L896.8 701.9 L898.1 702.0 L899.4 702.0 L900.7 702.1 L902.0 702.2 L903.4 702.3 L904.7 702.4 L906.0 702.4 L907.3 702.5 L908.7 702.6 L910.0 702.7 L911.3 702.7 L912.6 702.8 L913.9 702.9 L915.3 702.9 L916.6 703.0 L917.9 703.0 L919.2 703.1 L920.6 703.2 L921.9 703.2 L923.2 703.3 L924.5 703.3 L925.8 703.4 L927.2 703.4 L928.5 703.5 L929.8 703.5 L931.1 703.6 L932.5 703.6 L933.8 703.7 L935.1 703.7 L936.4 703.8 L937.7 703.8 L939.1 703.9 L940.4 703.9 L941.7 703.9 L943.0 704.0 L944.3 704.0 L945.7 704.1 L947.0 704.1 L948.3 704.1 L949.6 704.2 L951.0 704.2 L952.3 704.2 L953.6 704.3 L954.9 704.3 L956.2 704.3 L957.6 704.3 L958.9 704.4 L960.2 704.4 L961.5 704.4 L962.9 704.5 L964.2 704.5 L965.5 704.5 L966.8 704.5 L968.1 704.6 L969.5 704.6 L970.8 704.6 L972.1 704.6 L973.4 704.6 L974.8 704.7 L976.1 704.7 L977.4 704.7 L978.7 704.7 L980.0 704.7 L981.4 704.8 L982.7 704.8 L984.0 704.8 L985.3 704.8 L986.7 704.8 L988.0 704.8 L989.3 704.8 L990.6 704.9 L991.9 704.9 L993.3 704.9 L994.6 704.9 L995.9 704.9 L997.2 704.9 L998.6 704.9 L999.9 704.9 L1001.2 704.9 L1002.5 704.9 L1003.8 704.9 L1005.2 705.0 L1006.5 705.0 L1007.8 705.0 L1009.1 705.0 L1010.5 705.0 L1011.8 705.0 L1013.1 705.0 L1014.4 705.0" stroke="#0000ff" stroke-width="4.75"/>
<path d="M90.3 705.0 L91.6 705.0 L92.9 705.0 L94.3 705.0 L95.6 705.0 L96.9 705.0 L98.2 705.0 L99.6 705.0 L100.9 705.0 L102.2 705.0 L103.5 705.0 L104.8 705.0 L106.2 705.0 L107.5 705.0 L108.8 705.0 L110.1 705.0 L111.5 705.0 L112.8 705.0 L114.1 705.0 L115.4 705.0 L116.7 705.0 L118.1 705.0 L119.4 705.0 L120.7 705.0 L122.0 705.0 L123.4 705.0 L124.7 705.0 L126.0 705.0 L127.3 705.0 L128.6 705.0 L130.0 705.0 L131.3 705.0 L132.6 705.0 L133.9 705.0 L135.2 705.0 L136.6 705.0 L137.9 705.0 L139.2 705.0 L140.5 705.0 L141.9 705.0 L143.2 705.0 L144.5 705.0 L145.8 705.0 L147.1 705.0 L148.5 705.0 L149.8 705.0 L151.1 705.0 L152.4 705.0 L153.8 705.0 L155.1 705.0 L156.4 705.0 L157.7 704.9 L159.0 704.9 L160.4 704.9 L161.7 704.9 L163.0 704.9 L164.3 704.9 L165.7 704.9 L167.0 704.9 L168.3 704.9 L169.6 704.9 L170.9 704.9 L172.3 704.9 L173.6 704.9 L174.9 704.9 L176.2 704.9 L177.6 704.9 L178.9 704.9 L180.2 704.9 L181.5 704.9 L182.8 704.9 L184.2 704.9 L185.5 704.9 L186.8 704.9 L188.1 704.9 L189.5 704.9 L190.8 704.9 L192.1 704.9 L193.4 704.9 L194.7 704.9 L196.1 704.9 L197.4 704.9 L198.7 704.9 L200.0 704.9 L201.4 704.9 L202.7 704.9 L204.0 704.9 L205.3 704.9 L206.6 704.9 L208.0 704.9 L209.3 704.9 L210.6 704.9 L211.9 704.9 L213.3 704.9 L214.6 704.9 L215.9 704.9 L217.2 704.9 L218.5 704.9 L219.9 704.9 L221.2 704.9 L222.5 704.9 L223.8 704.9 L225.1 704.9 L226.5 704.9 L227.8 704.9 L229.1 704.9 L230.4 704.9 L231.8 704.9 L233.1 704.9 L234.4 704.9 L235.7 704.9 L237.0 704.9 L238.4 704.9 L239.7 704.9 L241.0 704.9 L242.3 704.9 L243.7 704.9 L245.0 704.9 L246.3 704.9 L247.6 704.9 L248.9 704.9 L250.3 704.9 L251.6 704.9 L252.9 704.9 L254.2 704.9 L255.6 704.9 L256.9 704.9 L258.2 704.9 L259.5 704.9 L260.8 704.9 L262.2 704.9 L263.5 704.8 L264.8 704.8 L266.1 704.8 L267.5 704.8 L268.8 704.8 L270.1 704.8 L271.4 704.8 L272.7 704.8 L274.1 704.8 L275.4 704.8 L276.7 704.8 L278.0 704.8 L279.4 704.8 L280.7 704.8 L282.0 704.8 L283.3 704.8 L284.6 704.8 L286.0 704.8 L287.3 704.8 L288.6 704.8 L289.9 704.8 L291.3 704.8 L292.6 704.8 L293.9 704.8 L295.2 704.8 L296.5 704.8 L297.9 704.8 L299.2 704.8 L300.5 704.7 L301.8 704.7 L303.2 704.7 L304.5 704.7 L305.8 704.7 L307.1 704.7 L308.4 704.7 L309.8 704.7 L311.1 704.7 L312.4 704.7 L313.7 704.7 L315.0 704.7 L316.4 704.7 L317.7 704.7 L319.0 704.7 L320.3 704.7 L321.7 704.7 L323.0 704.6 L324.3 704.6 L325.6 704.6 L326.9 704.6 L328.3 704.6 L329.6 704.6 L330.9 704.6 L332.2 704.6 L333.6 704.6 L334.9 704.6 L336.2 704.6 L337.5 704.6 L338.8 704.5 L340.2 704.5 L341.5 704.5 L342.8 704.5 L344.1 704.5 L345.5 704.5 L346.8 704.5 L348.1 704.5 L349.4 704.5 L350.7 704.5 L352.1 704.4 L353.4 704.4 L354.7 704.4 L356.0 704.4 L357.4 704.4 L358.7 704.4 L360.0 704.4 L361.3 704.4 L362.6 704.3 L364.0 704.3 L365.3 704.3 L366.6 704.3 L367.9 704.3 L369.3 704.3 L370.6 704.2 L371.9 704.2 L373.2 704.2 L374.5 704.2 L375.9 704.2 L377.2 704.2 L378.5 704.1 L379.8 704.1 L381.2 704.1 L382.5 704.1 L383.8 704.1 L385.1 704.1 L386.4 704.0 L387.8 704.0 L389.1 704.0 L390.4 704.0 L391.7 703.9 L393.1 703.9 L394.4 703.9 L395.7 703.9 L397.0 703.8 L398.3 703.8 L399.7 703.8 L401.0 703.8 L402.3 703.7 L403.6 703.7 L404.9 703.7 L406.3 703.7 L407.6 703.6 L408.9 703.6 L410.2 703.6 L411.6 703.5 L412.9 703.5 L414.2 703.5 L415.5 703.4 L416.8 703.4 L418.2 703.4 L419.5 703.3 L420.8 703.3 L422.1 703.3 L423.5 703.2 L424.8 703.2 L426.1 703.1 L427.4 703.1 L428.7 703.1 L430.1 703.0 L431.4 703.0 L432.7 702.9 L434.0 702.9 L435.4 702.8 L436.7 702.8 L438.0 702.7 L439.3 702.7 L440.6 702.6 L442.0 702.6 L443.3 702.5 L444.6 702.5 L445.9 702.4 L447.3 702.4 L448.6 702.3 L449.9 702.2 L451.2 702.2 L452.5 702.1 L453.9 702.1 L455.2 702.0 L456.5 701.9 L457.8 701.9 L459.2 701.8 L460.5 701.7 L461.8 701.6 L463.1 701.6 L464.4 701.5 L465.8 701.4 L467.1 701.3 L468.4 701.2 L469.7 701.2 L471.1 701.1 L472.4 701.0 L473.7 700.9 L475.0 700.8 L476.3 700.7 L477.7 700.6 L479.0 700.5 L480.3 700.4 L481.6 700.3 L483.0 700.2 L484.3 700.1 L485.6 700.0 L486.9 699.9 L488.2 699.8 L489.6 699.6 L490.9 699.5 L492.2 699.4 L493.5 699.3 L494.8 699.1 L496.2 699.0 L497.5 698.9 L498.8 698.7 L500.1 698.6 L501.5 698.4 L502.8 698.3 L504.1 698.1 L505.4 698.0 L506.7 697.8 L508.1 697.7 L509.4 697.5 L510.7 697.3 L512.0 697.1 L513.4 697.0 L514.7 696.8 L516.0 696.6 L517.3 696.4 L518.6 696.2 L520.0 696.0 L521.3 695.8 L522.6 695.6 L523.9 695.4 L525.3 695.1 L526.6 694.9 L527.9 694.7 L529.2 694.4 L530.5 694.2 L531.9 694.0 L533.2 693.7 L534.5 693.4 L535.8 693.2 L537.2 692.9 L538.5 692.6 L539.8 692.3 L541.1 692.0 L542.4 691.7 L543.8 691.4 L545.1 691.1 L546.4 690.8 L547.7 690.4 L549.1 690.1 L550.4 689.7 L551.7 689.4 L553.0 689.0 L554.3 688.6 L555.7 688.3 L557.0 687.9 L558.3 687.5 L559.6 687.0 L561.0 686.6 L562.3 686.2 L563.6 685.7 L564.9 685.3 L566.2 684.8 L567.6 684.3 L568.9 683.8 L570.2 683.3 L571.5 682.8 L572.9 682.3 L574.2 681.7 L575.5 681.1 L576.8 680.6 L578.1 680.0 L579.5 679.4 L580.8 678.7 L582.1 678.1 L583.4 677.4 L584.7 676.8 L586.1 676.1 L587.4 675.4 L588.7 674.6 L590.0 673.9 L591.4 673.1 L592.7 672.3 L594.0 671.5 L595.3 670.7 L596.6 669.8 L598.0 669.0 L599.3 668.1 L600.6 667.1 L601.9 666.2 L603.3 665.2 L604.6 664.2 L605.9 663.2 L607.2 662.1 L608.5 661.0 L609.9 659.9 L611.2 658.7 L612.5 657.5 L613.8 656.3 L615.2 655.0 L616.5 653.8 L617.8 652.4 L619.1 651.1 L620.4 649.6 L621.8 648.2 L623.1 646.7 L624.4 645.2 L625.7 643.6 L627.1 642.0 L628.4 640.3 L629.7 638.6 L631.0 636.8 L632.3 635.0 L633.7 633.1 L635.0 631.1 L636.3 629.1 L637.6 627.1 L639.0 624.9 L640.3 622.7 L641.6 620.5 L642.9 618.1 L644.2 615.7 L645.6 613.3 L646.9 610.7 L648.2 608.1 L649.5 605.4 L650.9 602.6 L652.2 599.7 L653.5 596.7 L654.8 593.6 L656.1 590.4 L657.5 587.1 L658.8 583.8 L660.1 580.3 L661.4 576.7 L662.8 572.9 L664.1 569.1 L665.4 565.1 L666.7 561.0 L668.0 556.8 L669.4 552.4 L670.7 547.9 L672.0 543.3 L673.3 538.5 L674.6 533.5 L676.0 528.4 L677.3 523.2 L678.6 517.7 L679.9 512.1 L681.3 506.3 L682.6 500.4 L683.9 494.2 L685.2 487.9 L686.5 481.4 L687.9 474.7 L689.2 467.8 L690.5 460.7 L691.8 453.5 L693.2 446.0 L694.5 438.4 L695.8 430.6 L697.1 422.6 L698.4 414.5 L699.8 406.2 L701.1 397.8 L702.4 389.4 L703.7 380.8 L705.1 372.2 L706.4 363.5 L707.7 355.0 L709.0 346.4 L710.3 338.1 L711.7 329.9 L713.0 322.0 L714.3 314.4 L715.6 307.3 L717.0 300.7 L718.3 294.7 L719.6 289.4 L720.9 284.8 L722.2 281.1 L723.6 278.3 L724.9 276.5 L726.2 275.7 L727.5 275.9 L728.9 277.2 L730.2 279.4 L731.5 282.5 L732.8 286.6 L734.1 291.5 L735.5 297.2 L736.8 303.5 L738.1 310.3 L739.4 317.7 L740.8 325.5 L742.1 333.6 L743.4 341.9 L744.7 350.4 L746.0 359.0 L747.4 367.7 L748.7 376.4 L750.0 385.1 L751.3 393.8 L752.7 402.3 L754.0 410.7 L755.3 419.0 L756.6 427.2 L757.9 435.2 L759.3 443.0 L760.6 450.6 L761.9 458.1 L763.2 465.3 L764.5 472.4 L765.9 479.3 L767.2 486.0 L768.5 492.5 L769.8 498.8 L771.2 505.0 L772.5 510.9 L773.8 516.7 L775.1 522.3 L776.4 527.7 L777.8 533.0 L779.1 538.1 L780.4 543.0 L781.7 547.8 L783.1 552.5 L784.4 557.0 L785.7 561.3 L787.0 565.5 L788.3 569.6 L789.7 573.6 L791.0 577.4 L792.3 581.1 L793.6 584.7 L795.0 588.2 L796.3 591.6 L797.6 594.9 L798.9 598.0 L800.2 601.1 L801.6 604.1 L802.9 606.9 L804.2 609.7 L805.5 612.4 L806.9 615.1 L808.2 617.6 L809.5 620.1 L810.8 622.5 L812.1 624.8 L813.5 627.0 L814.8 629.2 L816.1 631.3 L817.4 633.4 L818.8 635.4 L820.1 637.3 L821.4 639.2 L822.7 641.0 L824.0 642.8 L825.4 644.5 L826.7 646.2 L828.0 647.8 L829.3 649.3 L830.7 650.9 L832.0 652.3 L833.3 653.8 L834.6 655.2 L835.9 656.5 L837.3 657.9 L838.6 659.2 L839.9 660.4 L841.2 661.6 L842.6 662.8 L843.9 663.9 L845.2 665.1 L846.5 666.1 L847.8 667.2 L849.2 668.2 L850.5 669.2 L851.8 670.2 L853.1 671.1 L854.4 672.0 L855.8 672.9 L857.1 673.8 L858.4 674.7 L859.7 675.5 L861.1 676.3 L862.4 677.1 L863.7 677.8 L865.0 678.6 L866.3 679.3 L867.7 680.0 L869.0 680.7 L870.3 681.3 L871.6 682.0 L873.0 682.6 L874.3 683.2 L875.6 683.8 L876.9 684.4 L878.2 685.0 L879.6 685.6 L880.9 686.1 L882.2 686.6 L883.5 687.1 L884.9 687.6 L886.2 688.1 L887.5 688.6 L888.8 689.1 L890.1 689.5 L891.5 690.0 L892.8 690.4 L894.1 690.8 L895.4 691.2 L896.8 691.6 L898.1 692.0 L899.4 692.4 L900.7 692.8 L902.0 693.1 L903.4 693.5 L904.7 693.8 L906.0 694.1 L907.3 694.5 L908.7 694.8 L910.0 695.1 L911.3 695.4 L912.6 695.7 L913.9 696.0 L915.3 696.3 L916.6 696.5 L917.9 696.8 L919.2 697.1 L920.6 697.3 L921.9 697.6 L923.2 697.8 L924.5 698.1 L925.8 698.3 L927.2 698.5 L928.5 698.7 L929.8 698.9 L931.1 699.2 L932.5 699.4 L933.8 699.6 L935.1 699.7 L936.4 699.9 L937.7 700.1 L939.1 700.3 L940.4 700.5 L941.7 700.6 L943.0 700.8 L944.3 701.0 L945.7 701.1 L947.0 701.3 L948.3 701.4 L949.6 701.6 L951.0 701.7 L952.3 701.9 L953.6 702.0 L954.9 702.1 L956.2 702.2 L957.6 702.4 L958.9 702.5 L960.2 702.6 L961.5 702.7 L962.9 702.8 L964.2 702.9 L965.5 703.0 L966.8 703.1 L968.1 703.2 L969.5 703.3 L970.8 703.4 L972.1 703.5 L973.4 703.6 L974.8 703.7 L976.1 703.8 L977.4 703.9 L978.7 703.9 L980.0 704.0 L981.4 704.1 L982.7 704.1 L984.0 704.2 L985.3 704.3 L986.7 704.3 L988.0 704.4 L989.3 704.4 L990.6 704.5 L991.9 704.5 L993.3 704.6 L994.6 704.6 L995.9 704.7 L997.2 704.7 L998.6 704.8 L999.9 704.8 L1001.2 704.8 L1002.5 704.8 L1003.8 704.9 L1005.2 704.9 L1006.5 704.9 L1007.8 704.9 L1009.1 704.9 L1010.5 705.0 L1011.8 705.0 L1013.1 705.0 L1014.4 705.0" stroke="#00ff00" stroke-width="4.75"/>
<path d="M90.3 705.0 L91.6 705.0 L92.9 705.0 L94.3 705.0 L95.6 705.0 L96.9 705.0 L98.2 705.0 L99.6 705.0 L100.9 705.0 L102.2 705.0 L103.5 705.0 L104.8 705.0 L106.2 705.0 L107.5 705.0 L108.8 705.0 L110.1 705.0 L111.5 705.0 L112.8 705.0 L114.1 705.0 L115.4 705.0 L116.7 705.0 L118.1 705.0 L119.4 705.0 L120.7 705.0 L122.0 705.0 L123.4 705.0 L124.7 705.0 L126.0 705.0 L127.3 705.0 L128.6 705.0 L130.0 705.0 L131.3 705.0 L132.6 705.0 L133.9 705.0 L135.2 705.0 L136.6 705.0 L137.9 705.0 L139.2 705.0 L140.5 705.0 L141.9 705.0 L143.2 705.0 L144.5 705.0 L145.8 705.0 L147.1 705.0 L148.5 705.0 L149.8 705.0 L151.1 705.0 L152.4 705.0 L153.8 705.0 L155.1 705.0 L156.4 705.0 L157.7 705.0 L159.0 705.0 L160.4 705.0 L161.7 705.0 L163.0 705.0 L164.3 705.0 L165.7 705.0 L167.0 705.0 L168.3 705.0 L169.6 705.0 L170.9 705.0 L172.3 705.0 L173.6 705.0 L174.9 705.0 L176.2 705.0 L177.6 705.0 L178.9 705.0 L180.2 705.0 L181.5 705.0 L182.8 705.0 L184.2 705.0 L185.5 705.0 L186.8 705.0 L188.1 705.0 L189.5 705.0 L190.8 705.0 L192.1 705.0 L193.4 705.0 L194.7 705.0 L196.1 705.0 L197.4 705.0 L198.7 705.0 L200.0 705.0 L201.4 705.0 L202.7 705.0 L204.0 705.0 L205.3 705.0 L206.6 705.0 L208.0 705.0 L209.3 705.0 L210.6 705.0 L211.9 705.0 L213.3 705.0 L214.6 705.0 L215.9 705.0 L217.2 705.0 L218.5 705.0 L219.9 705.0 L221.2 705.0 L222.5 705.0 L223.8 705.0 L225.1 705.0 L226.5 705.0 L227.8 705.0 L229.1 705.0 L230.4 705.0 L231.8 705.0 L233.1 705.0 L234.4 705.0 L235.7 705.0 L237.0 704.9 L238.4 704.9 L239.7 704.9 L241.0 704.9 L242.3 704.9 L243.7 704.9 L245.0 704.9 L246.3 704.9 L247.6 704.9 L248.9 704.9 L250.3 704.9 L251.6 704.9 L252.9 704.9 L254.2 704.9 L255.6 704.9 L256.9 704.9 L258.2 704.9 L259.5 704.9 L260.8 704.9 L262.2 704.9 L263.5 704.9 L264.8 704.9 L266.1 704.9 L267.5 704.9 L268.8 704.9 L270.1 704.9 L271.4 704.9 L272.7 704.9 L274.1 704.9 L275.4 704.9 L276.7 704.9 L278.0 704.9 L279.4 704.9 L280.7 704.9 L282.0 704.9 L283.3 704.9 L284.6 704.9 L286.0 704.9 L287.3 704.9 L288.6 704.9 L289.9 704.9 L291.3 704.9 L292.6 704.9 L293.9 704.9 L295.2 704.9 L296.5 704.9 L297.9 704.9 L299.2 704.9 L300.5 704.9 L301.8 704.9 L303.2 704.9 L304.5 704.9 L305.8 704.9 L307.1 704.9 L308.4 704.9 L309.8 704.9 L311.1 704.9 L312.4 704.9 L313.7 704.9 L315.0 704.9 L316.4 704.9 L317.7 704.9 L319.0 704.9 L320.3 704.9 L321.7 704.9 L323.0 704.9 L324.3 704.9 L325.6 704.9 L326.9 704.9 L328.3 704.9 L329.6 704.9 L330.9 704.9 L332.2 704.9 L333.6 704.9 L334.9 704.9 L336.2 704.9 L337.5 704.9 L338.8 704.9 L340.2 704.9 L341.5 704.9 L342.8 704.9 L344.1 704.8 L345.5 704.8 L346.8 704.8 L348.1 704.8 L349.4 704.8 L350.7 704.8 L352.1 704.8 L353.4 704.8 L354.7 704.8 L356.0 704.8 L357.4 704.8 L358.7 704.8 L360.0 704.8 L361.3 704.8 L362.6 704.8 L364.0 704.8 L365.3 704.8 L366.6 704.8 L367.9 704.8 L369.3 704.8 L370.6 704.8 L371.9 704.8 L373.2 704.8 L374.5 704.8 L375.9 704.8 L377.2 704.8 L378.5 704.8 L379.8 704.7 L381.2 704.7 L382.5 704.7 L383.8 704.7 L385.1 704.7 L386.4 704.7 L387.8 704.7 L389.1 704.7 L390.4 704.7 L391.7 704.7 L393.1 704.7 L394.4 704.7 L395.7 704.7 L397.0 704.7 L398.3 704.7 L399.7 704.7 L401.0 704.7 L402.3 704.6 L403.6 704.6 L404.9 704.6 L406.3 704.6 L407.6 704.6 L408.9 704.6 L410.2 704.6 L411.6 704.6 L412.9 704.6 L414.2 704.6 L415.5 704.6 L416.8 704.6 L418.2 704.5 L419.5 704.5 L420.8 704.5 L422.1 704.5 L423.5 704.5 L424.8 704.5 L426.1 704.5 L427.4 704.5 L428.7 704.5 L430.1 704.5 L431.4 704.4 L432.7 704.4 L434.0 704.4 L435.4 704.4 L436.7 704.4 L438.0 704.4 L439.3 704.4 L440.6 704.4 L442.0 704.3 L443.3 704.3 L444.6 704.3 L445.9 704.3 L447.3 704.3 L448.6 704.3 L449.9 704.3 L451.2 704.2 L452.5 704.2 L453.9 704.2 L455.2 704.2 L456.5 704.2 L457.8 704.2 L459.2 704.1 L460.5 704.1 L461.8 704.1 L463.1 704.1 L464.4 704.1 L465.8 704.0 L467.1 704.0 L468.4 704.0 L469.7 704.0 L471.1 703.9 L472.4 703.9 L473.7 703.9 L475.0 703.9 L476.3 703.9 L477.7 703.8 L479.0 703.8 L480.3 703.8 L481.6 703.8 L483.0 703.7 L484.3 703.7 L485.6 703.7 L486.9 703.6 L488.2 703.6 L489.6 703.6 L490.9 703.5 L492.2 703.5 L493.5 703.5 L494.8 703.4 L496.2 703.4 L497.5 703.4 L498.8 703.3 L500.1 703.3 L501.5 703.3 L502.8 703.2 L504.1 703.2 L505.4 703.2 L506.7 703.1 L508.1 703.1 L509.4 703.0 L510.7 703.0 L512.0 702.9 L513.4 702.9 L514.7 702.9 L516.0 702.8 L517.3 702.8 L518.6 702.7 L520.0 702.7 L521.3 702.6 L522.6 702.5 L523.9 702.5 L525.3 702.4 L526.6 702.4 L527.9 702.3 L529.2 702.3 L530.5 702.2 L531.9 702.1 L533.2 702.1 L534.5 702.0 L535.8 701.9 L537.2 701.9 L538.5 701.8 L539.8 701.7 L541.1 701.7 L542.4 701.6 L543.8 701.5 L545.1 701.4 L546.4 701.4 L547.7 701.3 L549.1 701.2 L550.4 701.1 L551.7 701.0 L553.0 700.9 L554.3 700.8 L555.7 700.7 L557.0 700.6 L558.3 700.5 L559.6 700.4 L561.0 700.3 L562.3 700.2 L563.6 700.1 L564.9 700.0 L566.2 699.9 L567.6 699.8 L568.9 699.7 L570.2 699.6 L571.5 699.4 L572.9 699.3 L574.2 699.2 L575.5 699.1 L576.8 698.9 L578.1 698.8 L579.5 698.6 L580.8 698.5 L582.1 698.4 L583.4 698.2 L584.7 698.0 L586.1 697.9 L587.4 697.7 L588.7 697.6 L590.0 697.4 L591.4 697.2 L592.7 697.0 L594.0 696.9 L595.3 696.7 L596.6 696.5 L598.0 696.3 L599.3 696.1 L600.6 695.9 L601.9 695.7 L603.3 695.5 L604.6 695.2 L605.9 695.0 L607.2 694.8 L608.5 694.6 L609.9 694.3 L611.2 694.1 L612.5 693.8 L613.8 693.6 L615.2 693.3 L616.5 693.0 L617.8 692.8 L619.1 692.5 L620.4 692.2 L621.8 691.9 L623.1 691.6 L624.4 691.3 L625.7 690.9 L627.1 690.6 L628.4 690.3 L629.7 689.9 L631.0 689.6 L632.3 689.2 L633.7 688.9 L635.0 688.5 L636.3 688.1 L637.6 687.7 L639.0 687.3 L640.3 686.9 L641.6 686.5 L642.9 686.0 L644.2 685.6 L645.6 685.1 L646.9 684.6 L648.2 684.2 L649.5 683.7 L650.9 683.1 L652.2 682.6 L653.5 682.1 L654.8 681.5 L656.1 681.0 L657.5 680.4 L658.8 679.8 L660.1 679.2 L661.4 678.6 L662.8 678.0 L664.1 677.3 L665.4 676.6 L666.7 676.0 L668.0 675.2 L669.4 674.5 L670.7 673.8 L672.0 673.0 L673.3 672.2 L674.6 671.4 L676.0 670.6 L677.3 669.8 L678.6 668.9 L679.9 668.0 L681.3 667.1 L682.6 666.2 L683.9 665.2 L685.2 664.2 L686.5 663.2 L687.9 662.1 L689.2 661.1 L690.5 660.0 L691.8 658.8 L693.2 657.7 L694.5 656.5 L695.8 655.2 L697.1 654.0 L698.4 652.7 L699.8 651.3 L701.1 650.0 L702.4 648.5 L703.7 647.1 L705.1 645.6 L706.4 644.1 L707.7 642.5 L709.0 640.8 L710.3 639.2 L711.7 637.4 L713.0 635.7 L714.3 633.8 L715.6 632.0 L717.0 630.0 L718.3 628.0 L719.6 626.0 L720.9 623.9 L722.2 621.7 L723.6 619.5 L724.9 617.1 L726.2 614.8 L727.5 612.3 L728.9 609.8 L730.2 607.2 L731.5 604.5 L732.8 601.7 L734.1 598.9 L735.5 596.0 L736.8 592.9 L738.1 589.8 L739.4 586.6 L740.8 583.3 L742.1 579.9 L743.4 576.3 L744.7 572.7 L746.0 568.9 L747.4 565.1 L748.7 561.1 L750.0 557.0 L751.3 552.7 L752.7 548.3 L754.0 543.8 L755.3 539.1 L756.6 534.3 L757.9 529.4 L759.3 524.3 L760.6 519.0 L761.9 513.6 L763.2 508.0 L764.5 502.3 L765.9 496.3 L767.2 490.2 L768.5 483.9 L769.8 477.5 L771.2 470.8 L772.5 464.0 L773.8 457.0 L775.1 449.9 L776.4 442.5 L777.8 435.0 L779.1 427.3 L780.4 419.5 L781.7 411.5 L783.1 403.3 L784.4 395.1 L785.7 386.8 L787.0 378.4 L788.3 369.9 L789.7 361.5 L791.0 353.1 L792.3 344.8 L793.6 336.6 L795.0 328.6 L796.3 320.9 L797.6 313.5 L798.9 306.6 L800.2 300.1 L801.6 294.3 L802.9 289.1 L804.2 284.6 L805.5 281.0 L806.9 278.3 L808.2 276.5 L809.5 275.7 L810.8 275.9 L812.1 277.1 L813.5 279.3 L814.8 282.4 L816.1 286.4 L817.4 291.2 L818.8 296.8 L820.1 303.1 L821.4 309.9 L822.7 317.3 L824.0 325.0 L825.4 333.1 L826.7 341.5 L828.0 350.0 L829.3 358.7 L830.7 367.4 L832.0 376.2 L833.3 385.0 L834.6 393.8 L835.9 402.4 L837.3 411.0 L838.6 419.4 L839.9 427.7 L841.2 435.9 L842.6 443.9 L843.9 451.7 L845.2 459.3 L846.5 466.8 L847.8 474.0 L849.2 481.1 L850.5 488.0 L851.8 494.7 L853.1 501.2 L854.4 507.5 L855.8 513.7 L857.1 519.6 L858.4 525.4 L859.7 531.0 L861.1 536.5 L862.4 541.8 L863.7 546.9 L865.0 551.9 L866.3 556.7 L867.7 561.3 L869.0 565.9 L870.3 570.3 L871.6 574.5 L873.0 578.6 L874.3 582.6 L875.6 586.5 L876.9 590.2 L878.2 593.9 L879.6 597.4 L880.9 600.8 L882.2 604.1 L883.5 607.3 L884.9 610.4 L886.2 613.4 L887.5 616.3 L888.8 619.2 L890.1 621.9 L891.5 624.6 L892.8 627.1 L894.1 629.6 L895.4 632.1 L896.8 634.4 L898.1 636.7 L899.4 638.9 L900.7 641.1 L902.0 643.1 L903.4 645.2 L904.7 647.1 L906.0 649.0 L907.3 650.9 L908.7 652.7 L910.0 654.4 L911.3 656.1 L912.6 657.7 L913.9 659.3 L915.3 660.9 L916.6 662.4 L917.9 663.8 L919.2 665.2 L920.6 666.6 L921.9 667.9 L923.2 669.2 L924.5 670.5 L925.8 671.7 L927.2 672.9 L928.5 674.1 L929.8 675.2 L931.1 676.3 L932.5 677.3 L933.8 678.4 L935.1 679.4 L936.4 680.3 L937.7 681.3 L939.1 682.2 L940.4 683.1 L941.7 683.9 L943.0 684.8 L944.3 685.6 L945.7 686.4 L947.0 687.2 L948.3 687.9 L949.6 688.6 L951.0 689.3 L952.3 690.0 L953.6 690.7 L954.9 691.3 L956.2 692.0 L957.6 692.6 L958.9 693.2 L960.2 693.7 L961.5 694.3 L962.9 694.8 L964.2 695.4 L965.5 695.9 L966.8 696.3 L968.1 696.8 L969.5 697.3 L970.8 697.7 L972.1 698.2 L973.4 698.6 L974.8 699.0 L976.1 699.4 L977.4 699.7 L978.7 700.1 L980.0 700.4 L981.4 700.8 L982.7 701.1 L984.0 701.4 L985.3 701.7 L986.7 702.0 L988.0 702.2 L989.3 702.5 L990.6 702.7 L991.9 703.0 L993.3 703.2 L994.6 703.4 L995.9 703.6 L997.2 703.8 L998.6 703.9 L999.9 704.1 L1001.2 704.3 L1002.5 704.4 L1003.8 704.5 L1005.2 704.6 L1006.5 704.7 L1007.8 704.8 L1009.1 704.8 L1010.5 704.9 L1011.8 704.9 L1013.1 705.0 L1014.4 705.0" stroke="#ff0000" stroke-width="4.75"/>
<path d="M90.3 705.0 L91.6 705.0 L92.9 705.0 L94.3 705.0 L95.6 705.0 L96.9 705.0 L98.2 705.0 L99.6 705.0 L100.9 705.0 L102.2 705.0 L103.5 705.0 L104.8 705.0 L106.2 705.0 L107.5 705.0 L108.8 705.0 L110.1 705.0 L111.5 705.0 L112.8 705.0 L114.1 705.0 L115.4 705.0 L116.7 705.0 L118.1 705.0 L119.4 705.0 L120.7 705.0 L122.0 705.0 L123.4 705.0 L124.7 705.0 L126.0 705.0 L127.3 705.0 L128.6 705.0 L130.0 705.0 L131.3 705.0 L132.6 705.0 L133.9 705.0 L135.2 705.0 L136.6 705.0 L137.9 705.0 L139.2 705.0 L140.5 705.0 L141.9 705.0 L143.2 705.0 L144.5 705.0 L145.8 705.0 L147.1 705.0 L148.5 705.0 L149.8 705.0 L151.1 705.0 L152.4 705.0 L153.8 705.0 L155.1 705.0 L156.4 705.0 L157.7 705.0 L159.0 705.0 L160.4 705.0 L161.7 705.0 L163.0 705.0 L164.3 705.0 L165.7 705.0 L167.0 705.0 L168.3 705.0 L169.6 705.0 L170.9 705.0 L172.3 705.0 L173.6 705.0 L174.9 705.0 L176.2 705.0 L177.6 705.0 L178.9 705.0 L180.2 705.0 L181.5 705.0 L182.8 705.0 L184.2 705.0 L185.5 705.0 L186.8 705.0 L188.1 705.0 L189.5 705.0 L190.8 705.0 L192.1 705.0 L193.4 705.0 L194.7 705.0 L196.1 705.0 L197.4 705.0 L198.7 705.0 L200.0 705.0 L201.4 705.0 L202.7 705.0 L204.0 705.0 L205.3 705.0 L206.6 705.0 L208.0 705.0 L209.3 705.0 L210.6 705.0 L211.9 705.0 L213.3 705.0 L214.6 705.0 L215.9 705.0 L217.2 705.0 L218.5 705.0 L219.9 705.0 L221.2 705.0 L222.5 705.0 L223.8 705.0 L225.1 705.0 L226.5 705.0 L227.8 705.0 L229.1 705.0 L230.4 705.0 L231.8 705.0 L233.1 705.0 L234.4 705.0 L235.7 705.0 L237.0 705.0 L238.4 705.0 L239.7 705.0 L241.0 705.0 L242.3 705.0 L243.7 705.0 L245.0 705.0 L246.3 705.0 L247.6 705.0 L248.9 705.0 L250.3 705.0 L251.6 705.0 L252.9 705.0 L254.2 705.0 L255.6 705.0 L256.9 705.0 L258.2 705.0 L259.5 705.0 L260.8 705.0 L262.2 705.0 L263.5 705.0 L264.8 705.0 L266.1 705.0 L267.5 705.0 L268.8 705.0 L270.1 705.0 L271.4 705.0 L272.7 705.0 L274.1 705.0 L275.4 705.0 L276.7 705.0 L278.0 705.0 L279.4 705.0 L280.7 705.0 L282.0 705.0 L283.3 705.0 L284.6 705.0 L286.0 705.0 L287.3 705.0 L288.6 705.0 L289.9 705.0 L291.3 705.0 L292.6 705.0 L293.9 705.0 L295.2 705.0 L296.5 705.0 L297.9 705.0 L299.2 705.0 L300.5 705.0 L301.8 705.0 L303.2 705.0 L304.5 705.0 L305.8 704.9 L307.1 704.9 L308.4 704.9 L309.8 704.9 L311.1 704.9 L312.4 704.9 L313.7 704.9 L315.0 704.9 L316.4 704.9 L317.7 704.9 L319.0 704.9 L320.3 704.9 L321.7 704.9 L323.0 704.9 L324.3 704.9 L325.6 704.9 L326.9 704.9 L328.3 704.9 L329.6 704.9 L330.9 704.9 L332.2 704.9 L333.6 704.9 L334.9 704.9 L336.2 704.9 L337.5 704.9 L338.8 704.9 L340.2 704.9 L341.5 704.9 L342.8 704.9 L344.1 704.9 L345.5 704.9 L346.8 704.9 L348.1 704.9 L349.4 704.9 L350.7 704.9 L352.1 704.9 L353.4 704.9 L354.7 704.9 L356.0 704.9 L357.4 704.9 L358.7 704.9 L360.0 704.9 L361.3 704.9 L362.6 704.9 L364.0 704.9 L365.3 704.9 L366.6 704.9 L367.9 704.9 L369.3 704.9 L370.6 704.9 L371.9 704.9 L373.2 704.9 L374.5 704.9 L375.9 704.9 L377.2 704.9 L378.5 704.9 L379.8 704.9 L381.2 704.9 L382.5 704.9 L383.8 704.9 L385.1 704.9 L386.4 704.9 L387.8 704.9 L389.1 704.9 L390.4 704.9 L391.7 704.9 L393.1 704.9 L394.4 704.9 L395.7 704.9 L397.0 704.9 L398.3 704.9 L399.7 704.9 L401.0 704.9 L402.3 704.9 L403.6 704.9 L404.9 704.9 L406.3 704.9 L407.6 704.9 L408.9 704.9 L410.2 704.9 L411.6 704.8 L412.9 704.8 L414.2 704.8 L415.5 704.8 L416.8 704.8 L418.2 704.8 L419.5 704.8 L420.8 704.8 L422.1 704.8 L423.5 704.8 L424.8 704.8 L426.1 704.8 L427.4 704.8 L428.7 704.8 L430.1 704.8 L431.4 704.8 L432.7 704.8 L434.0 704.8 L435.4 704.8 L436.7 704.8 L438.0 704.8 L439.3 704.8 L440.6 704.8 L442.0 704.8 L443.3 704.8 L444.6 704.8 L445.9 704.8 L447.3 704.8 L448.6 704.7 L449.9 704.7 L451.2 704.7 L452.5 704.7 L453.9 704.7 L455.2 704.7 L456.5 704.7 L457.8 704.7 L459.2 704.7 L460.5 704.7 L461.8 704.7 L463.1 704.7 L464.4 704.7 L465.8 704.7 L467.1 704.7 L468.4 704.7 L469.7 704.7 L471.1 704.6 L472.4 704.6 L473.7 704.6 L475.0 704.6 L476.3 704.6 L477.7 704.6 L479.0 704.6 L480.3 704.6 L481.6 704.6 L483.0 704.6 L484.3 704.6 L485.6 704.6 L486.9 704.5 L488.2 704.5 L489.6 704.5 L490.9 704.5 L492.2 704.5 L493.5 704.5 L494.8 704.5 L496.2 704.5 L497.5 704.5 L498.8 704.4 L500.1 704.4 L501.5 704.4 L502.8 704.4 L504.1 704.4 L505.4 704.4 L506.7 704.4 L508.1 704.4 L509.4 704.3 L510.7 704.3 L512.0 704.3 L513.4 704.3 L514.7 704.3 L516.0 704.3 L517.3 704.3 L518.6 704.2 L520.0 704.2 L521.3 704.2 L522.6 704.2 L523.9 704.2 L525.3 704.2 L526.6 704.1 L527.9 704.1 L529.2 704.1 L530.5 704.1 L531.9 704.1 L533.2 704.0 L534.5 704.0 L535.8 704.0 L537.2 704.0 L538.5 704.0 L539.8 703.9 L541.1 703.9 L542.4 703.9 L543.8 703.9 L545.1 703.8 L546.4 703.8 L547.7 703.8 L549.1 703.8 L550.4 703.7 L551.7 703.7 L553.0 703.7 L554.3 703.7 L555.7 703.6 L557.0 703.6 L558.3 703.6 L559.6 703.5 L561.0 703.5 L562.3 703.5 L563.6 703.4 L564.9 703.4 L566.2 703.4 L567.6 703.3 L568.9 703.3 L570.2 703.3 L571.5 703.2 L572.9 703.2 L574.2 703.1 L575.5 703.1 L576.8 703.1 L578.1 703.0 L579.5 703.0 L580.8 702.9 L582.1 702.9 L583.4 702.8 L584.7 702.8 L586.1 702.7 L587.4 702.7 L588.7 702.6 L590.0 702.6 L591.4 702.5 L592.7 702.5 L594.0 702.4 L595.3 702.4 L596.6 702.3 L598.0 702.2 L599.3 702.2 L600.6 702.1 L601.9 702.1 L603.3 702.0 L604.6 701.9 L605.9 701.9 L607.2 701.8 L608.5 701.7 L609.9 701.6 L611.2 701.6 L612.5 701.5 L613.8 701.4 L615.2 701.3 L616.5 701.3 L617.8 701.2 L619.1 701.1 L620.4 701.0 L621.8 700.9 L623.1 700.8 L624.4 700.7 L625.7 700.6 L627.1 700.5 L628.4 700.4 L629.7 700.3 L631.0 700.2 L632.3 700.1 L633.7 700.0 L635.0 699.9 L636.3 699.8 L637.6 699.7 L639.0 699.6 L640.3 699.4 L641.6 699.3 L642.9 699.2 L644.2 699.0 L645.6 698.9 L646.9 698.8 L648.2 698.6 L649.5 698.5 L650.9 698.4 L652.2 698.2 L653.5 698.1 L654.8 697.9 L656.1 697.7 L657.5 697.6 L658.8 697.4 L660.1 697.2 L661.4 697.1 L662.8 696.9 L664.1 696.7 L665.4 696.5 L666.7 696.3 L668.0 696.1 L669.4 695.9 L670.7 695.7 L672.0 695.5 L673.3 695.3 L674.6 695.1 L676.0 694.9 L677.3 694.6 L678.6 694.4 L679.9 694.2 L681.3 693.9 L682.6 693.7 L683.9 693.4 L685.2 693.1 L686.5 692.9 L687.9 692.6 L689.2 692.3 L690.5 692.0 L691.8 691.7 L693.2 691.4 L694.5 691.1 L695.8 690.8 L697.1 690.5 L698.4 690.2 L699.8 689.8 L701.1 689.5 L702.4 689.1 L703.7 688.8 L705.1 688.4 L706.4 688.0 L707.7 687.6 L709.0 687.2 L710.3 686.8 L711.7 686.4 L713.0 686.0 L714.3 685.6 L715.6 685.1 L717.0 684.7 L718.3 684.2 L719.6 683.7 L720.9 683.2 L722.2 682.7 L723.6 682.2 L724.9 681.7 L726.2 681.1 L727.5 680.6 L728.9 680.0 L730.2 679.5 L731.5 678.9 L732.8 678.3 L734.1 677.6 L735.5 677.0 L736.8 676.4 L738.1 675.7 L739.4 675.0 L740.8 674.3 L742.1 673.6 L743.4 672.9 L744.7 672.1 L746.0 671.4 L747.4 670.6 L748.7 669.8 L750.0 668.9 L751.3 668.1 L752.7 667.2 L754.0 666.3 L755.3 665.4 L756.6 664.5 L757.9 663.6 L759.3 662.6 L760.6 661.6 L761.9 660.5 L763.2 659.5 L764.5 658.4 L765.9 657.3 L767.2 656.2 L768.5 655.0 L769.8 653.8 L771.2 652.6 L772.5 651.4 L773.8 650.1 L775.1 648.8 L776.4 647.4 L777.8 646.0 L779.1 644.6 L780.4 643.1 L781.7 641.6 L783.1 640.1 L784.4 638.5 L785.7 636.9 L787.0 635.3 L788.3 633.6 L789.7 631.8 L791.0 630.1 L792.3 628.2 L793.6 626.3 L795.0 624.4 L796.3 622.4 L797.6 620.4 L798.9 618.3 L800.2 616.2 L801.6 614.0 L802.9 611.7 L804.2 609.4 L805.5 607.0 L806.9 604.6 L808.2 602.0 L809.5 599.5 L810.8 596.8 L812.1 594.1 L813.5 591.3 L814.8 588.4 L816.1 585.5 L817.4 582.4 L818.8 579.3 L820.1 576.1 L821.4 572.8 L822.7 569.4 L824.0 566.0 L825.4 562.4 L826.7 558.7 L828.0 555.0 L829.3 551.1 L830.7 547.1 L832.0 543.0 L833.3 538.8 L834.6 534.5 L835.9 530.0 L837.3 525.5 L838.6 520.8 L839.9 516.0 L841.2 511.0 L842.6 506.0 L843.9 500.7 L845.2 495.4 L846.5 489.9 L847.8 484.2 L849.2 478.5 L850.5 472.5 L851.8 466.5 L853.1 460.2 L854.4 453.8 L855.8 447.3 L857.1 440.7 L858.4 433.8 L859.7 426.9 L861.1 419.8 L862.4 412.6 L863.7 405.3 L865.0 397.8 L866.3 390.3 L867.7 382.7 L869.0 375.0 L870.3 367.3 L871.6 359.6 L873.0 351.9 L874.3 344.3 L875.6 336.8 L876.9 329.4 L878.2 322.3 L879.6 315.4 L880.9 308.8 L882.2 302.6 L883.5 296.9 L884.9 291.8 L886.2 287.2 L887.5 283.3 L888.8 280.1 L890.1 277.8 L891.5 276.3 L892.8 275.7 L894.1 276.0 L895.4 277.2 L896.8 279.4 L898.1 282.5 L899.4 286.4 L900.7 291.1 L902.0 296.6 L903.4 302.8 L904.7 309.6 L906.0 316.9 L907.3 324.7 L908.7 332.9 L910.0 341.4 L911.3 350.2 L912.6 359.2 L913.9 368.3 L915.3 377.6 L916.6 386.9 L917.9 396.2 L919.2 405.4 L920.6 414.7 L921.9 423.8 L923.2 432.9 L924.5 441.8 L925.8 450.6 L927.2 459.2 L928.5 467.7 L929.8 476.1 L931.1 484.2 L932.5 492.2 L933.8 500.0 L935.1 507.6 L936.4 515.1 L937.7 522.4 L939.1 529.4 L940.4 536.3 L941.7 543.1 L943.0 549.6 L944.3 556.0 L945.7 562.2 L947.0 568.2 L948.3 574.0 L949.6 579.7 L951.0 585.2 L952.3 590.6 L953.6 595.8 L954.9 600.8 L956.2 605.7 L957.6 610.4 L958.9 615.0 L960.2 619.5 L961.5 623.8 L962.9 628.0 L964.2 632.0 L965.5 635.9 L966.8 639.7 L968.1 643.4 L969.5 646.9 L970.8 650.3 L972.1 653.6 L973.4 656.8 L974.8 659.9 L976.1 662.8 L977.4 665.7 L978.7 668.4 L980.0 671.0 L981.4 673.5 L982.7 676.0 L984.0 678.3 L985.3 680.5 L986.7 682.6 L988.0 684.6 L989.3 686.6 L990.6 688.4 L991.9 690.1 L993.3 691.8 L994.6 693.3 L995.9 694.8 L997.2 696.1 L998.6 697.4 L999.9 698.6 L1001.2 699.7 L1002.5 700.6 L1003.8 701.5 L1005.2 702.3 L1006.5 703.0 L1007.8 703.6 L1009.1 704.1 L1010.5 704.5 L1011.8 704.7 L1013.1 704.9 L1014.4 705.0" stroke="#00ffff" stroke-width="4.75"/>
<path d="M90.3 705.0 L91.6 705.0 L92.9 705.0 L94.3 705.0 L95.6 705.0 L96.9 705.0 L98.2 705.0 L99.6 705.0 L100.9 705.0 L102.2 705.0 L103.5 705.0 L104.8 705.0 L106.2 705.0 L107.5 705.0 L108.8 705.0 L110.1 705.0 L111.5 705.0 L112.8 705.0 L114.1 705.0 L115.4 705.0 L116.7 705.0 L118.1 705.0 L119.4 705.0 L120.7 705.0 L122.0 705.0 L123.4 705.0 L124.7 705.0 L126.0 705.0 L127.3 705.0 L128.6 705.0 L130.0 705.0 L131.3 705.0 L132.6 705.0 L133.9 705.0 L135.2 705.0 L136.6 705.0 L137.9 705.0 L139.2 705.0 L140.5 705.0 L141.9 705.0 L143.2 705.0 L144.5 705.0 L145.8 705.0 L147.1 705.0 L148.5 705.0 L149.8 705.0 L151.1 705.0 L152.4 705.0 L153.8 705.0 L155.1 705.0 L156.4 705.0 L157.7 705.0 L159.0 705.0 L160.4 705.0 L161.7 705.0 L163.0 705.0 L164.3 705.0 L165.7 705.0 L167.0 705.0 L168.3 705.0 L169.6 705.0 L170.9 705.0 L172.3 705.0 L173.6 705.0 L174.9 705.0 L176.2 705.0 L177.6 705.0 L178.9 705.0 L180.2 705.0 L181.5 705.0 L182.8 705.0 L184.2 705.0 L185.5 705.0 L186.8 705.0 L188.1 705.0 L189.5 705.0 L190.8 705.0 L192.1 705.0 L193.4 705.0 L194.7 705.0 L196.1 705.0 L197.4 705.0 L198.7 705.0 L200.0 705.0 L201.4 705.0 L202.7 705.0 L204.0 705.0 L205.3 705.0 L206.6 705.0 L208.0 705.0 L209.3 705.0 L210.6 705.0 L211.9 705.0 L213.3 705.0 L214.6 705.0 L215.9 705.0 L217.2 705.0 L218.5 705.0 L219.9 705.0 L221.2 705.0 L222.5 705.0 L223.8 705.0 L225.1 705.0 L226.5 705.0 L227.8 705.0 L229.1 705.0 L230.4 705.0 L231.8 705.0 L233.1 705.0 L234.4 705.0 L235.7 705.0 L237.0 705.0 L238.4 705.0 L239.7 705.0 L241.0 705.0 L242.3 705.0 L243.7 705.0 L245.0 705.0 L246.3 705.0 L247.6 705.0 L248.9 705.0 L250.3 705.0 L251.6 705.0 L252.9 705.0 L254.2 705.0 L255.6 705.0 L256.9 705.0 L258.2 705.0 L259.5 705.0 L260.8 705.0 L262.2 705.0 L263.5 705.0 L264.8 705.0 L266.1 705.0 L267.5 705.0 L268.8 705.0 L270.1 705.0 L271.4 705.0 L272.7 705.0 L274.1 705.0 L275.4 705.0 L276.7 705.0 L278.0 705.0 L279.4 705.0 L280.7 705.0 L282.0 705.0 L283.3 705.0 L284.6 705.0 L286.0 705.0 L287.3 705.0 L288.6 705.0 L289.9 705.0 L291.3 705.0 L292.6 705.0 L293.9 705.0 L295.2 705.0 L296.5 705.0 L297.9 705.0 L299.2 705.0 L300.5 705.0 L301.8 705.0 L303.2 705.0 L304.5 705.0 L305.8 705.0 L307.1 705.0 L308.4 705.0 L309.8 705.0 L311.1 705.0 L312.4 705.0 L313.7 705.0 L315.0 705.0 L316.4 705.0 L317.7 705.0 L319.0 705.0 L320.3 705.0 L321.7 705.0 L323.0 705.0 L324.3 705.0 L325.6 705.0 L326.9 705.0 L328.3 705.0 L329.6 705.0 L330.9 705.0 L332.2 705.0 L333.6 705.0 L334.9 705.0 L336.2 705.0 L337.5 705.0 L338.8 705.0 L340.2 705.0 L341.5 705.0 L342.8 705.0 L344.1 705.0 L345.5 705.0 L346.8 705.0 L348.1 705.0 L349.4 705.0 L350.7 705.0 L352.1 705.0 L353.4 705.0 L354.7 705.0 L356.0 705.0 L357.4 705.0 L358.7 705.0 L360.0 705.0 L361.3 705.0 L362.6 705.0 L364.0 705.0 L365.3 705.0 L366.6 705.0 L367.9 705.0 L369.3 705.0 L370.6 705.0 L371.9 705.0 L373.2 705.0 L374.5 705.0 L375.9 705.0 L377.2 705.0 L378.5 705.0 L379.8 705.0 L381.2 705.0 L382.5 705.0 L383.8 705.0 L385.1 705.0 L386.4 705.0 L387.8 705.0 L389.1 705.0 L390.4 705.0 L391.7 705.0 L393.1 705.0 L394.4 705.0 L395.7 705.0 L397.0 705.0 L398.3 705.0 L399.7 705.0 L401.0 705.0 L402.3 705.0 L403.6 705.0 L404.9 705.0 L406.3 705.0 L407.6 705.0 L408.9 705.0 L410.2 705.0 L411.6 705.0 L412.9 705.0 L414.2 705.0 L415.5 705.0 L416.8 705.0 L418.2 705.0 L419.5 705.0 L420.8 705.0 L422.1 705.0 L423.5 705.0 L424.8 705.0 L426.1 705.0 L427.4 705.0 L428.7 705.0 L430.1 705.0 L431.4 705.0 L432.7 705.0 L434.0 705.0 L435.4 705.0 L436.7 705.0 L438.0 705.0 L439.3 705.0 L440.6 705.0 L442.0 705.0 L443.3 705.0 L444.6 705.0 L445.9 705.0 L447.3 705.0 L448.6 705.0 L449.9 705.0 L451.2 705.0 L452.5 705.0 L453.9 705.0 L455.2 705.0 L456.5 705.0 L457.8 705.0 L459.2 705.0 L460.5 705.0 L461.8 705.0 L463.1 705.0 L464.4 705.0 L465.8 705.0 L467.1 705.0 L468.4 705.0 L469.7 705.0 L471.1 705.0 L472.4 705.0 L473.7 705.0 L475.0 705.0 L476.3 705.0 L477.7 705.0 L479.0 705.0 L480.3 705.0 L481.6 705.0 L483.0 705.0 L484.3 705.0 L485.6 705.0 L486.9 705.0 L488.2 705.0 L489.6 705.0 L490.9 705.0 L492.2 705.0 L493.5 705.0 L494.8 705.0 L496.2 705.0 L497.5 705.0 L498.8 705.0 L500.1 705.0 L501.5 705.0 L502.8 705.0 L504.1 705.0 L505.4 705.0 L506.7 705.0 L508.1 705.0 L509.4 705.0 L510.7 705.0 L512.0 705.0 L513.4 705.0 L514.7 705.0 L516.0 705.0 L517.3 705.0 L518.6 705.0 L520.0 705.0 L521.3 705.0 L522.6 705.0 L523.9 705.0 L525.3 705.0 L526.6 705.0 L527.9 705.0 L529.2 705.0 L530.5 705.0 L531.9 705.0 L533.2 705.0 L534.5 705.0 L535.8 705.0 L537.2 705.0 L538.5 705.0 L539.8 705.0 L541.1 705.0 L542.4 705.0 L543.8 705.0 L545.1 705.0 L546.4 705.0 L547.7 705.0 L549.1 705.0 L550.4 705.0 L551.7 705.0 L553.0 705.0 L554.3 705.0 L555.7 705.0 L557.0 705.0 L558.3 705.0 L559.6 705.0 L561.0 705.0 L562.3 705.0 L563.6 705.0 L564.9 705.0 L566.2 705.0 L567.6 705.0 L568.9 705.0 L570.2 705.0 L571.5 705.0 L572.9 705.0 L574.2 705.0 L575.5 705.0 L576.8 705.0 L578.1 705.0 L579.5 705.0 L580.8 705.0 L582.1 705.0 L583.4 705.0 L584.7 705.0 L586.1 705.0 L587.4 705.0 L588.7 705.0 L590.0 705.0 L591.4 705.0 L592.7 705.0 L594.0 705.0 L595.3 705.0 L596.6 705.0 L598.0 705.0 L599.3 705.0 L600.6 705.0 L601.9 705.0 L603.3 705.0 L604.6 705.0 L605.9 705.0 L607.2 705.0 L608.5 705.0 L609.9 705.0 L611.2 705.0 L612.5 705.0 L613.8 705.0 L615.2 705.0 L616.5 705.0 L617.8 705.0 L619.1 705.0 L620.4 705.0 L621.8 705.0 L623.1 705.0 L624.4 705.0 L625.7 705.0 L627.1 705.0 L628.4 705.0 L629.7 705.0 L631.0 705.0 L632.3 705.0 L633.7 705.0 L635.0 705.0 L636.3 705.0 L637.6 705.0 L639.0 705.0 L640.3 705.0 L641.6 705.0 L642.9 705.0 L644.2 705.0 L645.6 705.0 L646.9 705.0 L648.2 705.0 L649.5 705.0 L650.9 705.0 L652.2 705.0 L653.5 705.0 L654.8 705.0 L656.1 705.0 L657.5 705.0 L658.8 705.0 L660.1 705.0 L661.4 705.0 L662.8 704.9 L664.1 704.9 L665.4 704.9 L666.7 704.9 L668.0 704.9 L669.4 704.9 L670.7 704.9 L672.0 704.9 L673.3 704.9 L674.6 704.9 L676.0 704.9 L677.3 704.9 L678.6 704.9 L679.9 704.9 L681.3 704.9 L682.6 704.9 L683.9 704.9 L685.2 704.9 L686.5 704.9 L687.9 704.9 L689.2 704.9 L690.5 704.9 L691.8 704.9 L693.2 704.9 L694.5 704.9 L695.8 704.9 L697.1 704.9 L698.4 704.9 L699.8 704.9 L701.1 704.9 L702.4 704.9 L703.7 704.9 L705.1 704.9 L706.4 704.9 L707.7 704.9 L709.0 704.9 L710.3 704.9 L711.7 704.9 L713.0 704.9 L714.3 704.9 L715.6 704.8 L717.0 704.8 L718.3 704.8 L719.6 704.8 L720.9 704.8 L722.2 704.8 L723.6 704.8 L724.9 704.8 L726.2 704.8 L727.5 704.8 L728.9 704.8 L730.2 704.8 L731.5 704.8 L732.8 704.8 L734.1 704.7 L735.5 704.7 L736.8 704.7 L738.1 704.7 L739.4 704.7 L740.8 704.7 L742.1 704.7 L743.4 704.7 L744.7 704.6 L746.0 704.6 L747.4 704.6 L748.7 704.6 L750.0 704.6 L751.3 704.6 L752.7 704.5 L754.0 704.5 L755.3 704.5 L756.6 704.5 L757.9 704.5 L759.3 704.4 L760.6 704.4 L761.9 704.4 L763.2 704.4 L764.5 704.3 L765.9 704.3 L767.2 704.3 L768.5 704.2 L769.8 704.2 L771.2 704.2 L772.5 704.1 L773.8 704.1 L775.1 704.0 L776.4 704.0 L777.8 704.0 L779.1 703.9 L780.4 703.9 L781.7 703.8 L783.1 703.8 L784.4 703.7 L785.7 703.6 L787.0 703.6 L788.3 703.5 L789.7 703.4 L791.0 703.4 L792.3 703.3 L793.6 703.2 L795.0 703.1 L796.3 703.1 L797.6 703.0 L798.9 702.9 L800.2 702.8 L801.6 702.7 L802.9 702.6 L804.2 702.4 L805.5 702.3 L806.9 702.2 L808.2 702.1 L809.5 701.9 L810.8 701.8 L812.1 701.6 L813.5 701.5 L814.8 701.3 L816.1 701.1 L817.4 701.0 L818.8 700.8 L820.1 700.6 L821.4 700.4 L822.7 700.2 L824.0 699.9 L825.4 699.7 L826.7 699.4 L828.0 699.2 L829.3 698.9 L830.7 698.6 L832.0 698.3 L833.3 698.0 L834.6 697.6 L835.9 697.3 L837.3 696.9 L838.6 696.5 L839.9 696.1 L841.2 695.7 L842.6 695.3 L843.9 694.8 L845.2 694.3 L846.5 693.8 L847.8 693.3 L849.2 692.7 L850.5 692.1 L851.8 691.5 L853.1 690.8 L854.4 690.1 L855.8 689.4 L857.1 688.7 L858.4 687.9 L859.7 687.1 L861.1 686.2 L862.4 685.3 L863.7 684.3 L865.0 683.3 L866.3 682.3 L867.7 681.2 L869.0 680.0 L870.3 678.8 L871.6 677.6 L873.0 676.3 L874.3 674.9 L875.6 673.4 L876.9 671.9 L878.2 670.3 L879.6 668.7 L880.9 666.9 L882.2 665.1 L883.5 663.2 L884.9 661.2 L886.2 659.1 L887.5 657.0 L888.8 654.7 L890.1 652.3 L891.5 649.9 L892.8 647.3 L894.1 644.6 L895.4 641.8 L896.8 638.9 L898.1 635.8 L899.4 632.7 L900.7 629.4 L902.0 626.0 L903.4 622.4 L904.7 618.7 L906.0 614.9 L907.3 610.9 L908.7 606.8 L910.0 602.5 L911.3 598.1 L912.6 593.5 L913.9 588.8 L915.3 584.0 L916.6 578.9 L917.9 573.8 L919.2 568.5 L920.6 563.0 L921.9 557.4 L923.2 551.6 L924.5 545.7 L925.8 539.7 L927.2 533.5 L928.5 527.1 L929.8 520.7 L931.1 514.1 L932.5 507.5 L933.8 500.7 L935.1 493.8 L936.4 486.8 L937.7 479.8 L939.1 472.6 L940.4 465.5 L941.7 458.2 L943.0 451.0 L944.3 443.7 L945.7 436.4 L947.0 429.2 L948.3 421.9 L949.6 414.7 L951.0 407.6 L952.3 400.5 L953.6 393.5 L954.9 386.7 L956.2 379.9 L957.6 373.3 L958.9 366.9 L960.2 360.6 L961.5 354.5 L962.9 348.6 L964.2 342.9 L965.5 337.5 L966.8 332.3 L968.1 327.3 L969.5 322.6 L970.8 318.1 L972.1 313.9 L973.4 309.9 L974.8 306.3 L976.1 302.8 L977.4 299.7 L978.7 296.7 L980.0 294.1 L981.4 291.6 L982.7 289.4 L984.0 287.4 L985.3 285.7 L986.7 284.1 L988.0 282.7 L989.3 281.5 L990.6 280.4 L991.9 279.5 L993.3 278.7 L994.6 278.0 L995.9 277.5 L997.2 277.1 L998.6 276.7 L999.9 276.4 L1001.2 276.2 L1002.5 276.0 L1003.8 275.9 L1005.2 275.8 L1006.5 275.7 L1007.8 275.7 L1009.1 275.7 L1010.5 275.7 L1011.8 275.7 L1013.1 275.7 L1014.4 275.7" stroke="#ff00ff" stroke-width="4.75"/>
<path d="M90.3 267.9 L91.6 267.8 L92.9 267.6 L94.3 267.5 L95.6 267.3 L96.9 267.1 L98.2 267.0 L99.6 266.8 L100.9 266.6 L102.2 266.5 L103.5 266.3 L104.8 266.1 L106.2 265.9 L107.5 265.8 L108.8 265.6 L110.1 265.4 L111.5 265.2 L112.8 265.0 L114.1 264.8 L115.4 264.6 L116.7 264.4 L118.1 264.3 L119.4 264.1 L120.7 263.9 L122.0 263.6 L123.4 263.4 L124.7 263.2 L126.0 263.0 L127.3 262.8 L128.6 262.6 L130.0 262.4 L131.3 262.2 L132.6 262.0 L133.9 261.7 L135.2 261.5 L136.6 261.3 L137.9 261.1 L139.2 260.9 L140.5 260.6 L141.9 260.4 L143.2 260.2 L144.5 260.0 L145.8 259.7 L147.1 259.5 L148.5 259.3 L149.8 259.1 L151.1 258.9 L152.4 258.6 L153.8 258.4 L155.1 258.2 L156.4 258.0 L157.7 257.8 L159.0 257.5 L160.4 257.3 L161.7 257.1 L163.0 256.9 L164.3 256.7 L165.7 256.5 L167.0 256.3 L168.3 256.1 L169.6 256.0 L170.9 255.8 L172.3 255.6 L173.6 255.4 L174.9 255.3 L176.2 255.1 L177.6 255.0 L178.9 254.8 L180.2 254.7 L181.5 254.5 L182.8 254.4 L184.2 254.3 L185.5 254.2 L186.8 254.1 L188.1 254.0 L189.5 253.9 L190.8 253.9 L192.1 253.8 L193.4 253.8 L194.7 253.7 L196.1 253.7 L197.4 253.7 L198.7 253.6 L200.0 253.6 L201.4 253.6 L202.7 253.7 L204.0 253.7 L205.3 253.7 L206.6 253.8 L208.0 253.8 L209.3 253.9 L210.6 253.9 L211.9 254.0 L213.3 254.1 L214.6 254.1 L215.9 254.2 L217.2 254.3 L218.5 254.4 L219.9 254.4 L221.2 254.5 L222.5 254.6 L223.8 254.6 L225.1 254.7 L226.5 254.7 L227.8 254.7 L229.1 254.7 L230.4 254.7 L231.8 254.7 L233.1 254.6 L234.4 254.5 L235.7 254.4 L237.0 254.2 L238.4 254.0 L239.7 253.7 L241.0 253.4 L242.3 253.0 L243.7 252.6 L245.0 252.1 L246.3 251.5 L247.6 250.9 L248.9 250.1 L250.3 249.3 L251.6 248.3 L252.9 247.3 L254.2 246.1 L255.6 244.9 L256.9 243.4 L258.2 241.9 L259.5 240.2 L260.8 238.4 L262.2 236.4 L263.5 234.2 L264.8 231.9 L266.1 229.4 L267.5 226.7 L268.8 223.8 L270.1 220.7 L271.4 217.3 L272.7 213.8 L274.1 210.0 L275.4 206.1 L276.7 201.8 L278.0 197.4 L279.4 192.7 L280.7 187.7 L282.0 182.6 L283.3 177.2 L284.6 171.5 L286.0 165.7 L287.3 159.6 L288.6 153.4 L289.9 147.0 L291.3 140.4 L292.6 133.8 L293.9 127.0 L295.2 120.3 L296.5 113.5 L297.9 106.9 L299.2 100.4 L300.5 94.2 L301.8 88.2 L303.2 82.6 L304.5 77.5 L305.8 73.0 L307.1 69.1 L308.4 65.9 L309.8 63.5 L311.1 61.9 L312.4 61.2 L313.7 61.3 L315.0 62.3 L316.4 64.2 L317.7 66.8 L319.0 70.2 L320.3 74.2 L321.7 78.8 L323.0 83.9 L324.3 89.4 L325.6 95.2 L326.9 101.2 L328.3 107.3 L329.6 113.5 L330.9 119.6 L332.2 125.7 L333.6 131.6 L334.9 137.3 L336.2 142.8 L337.5 147.9 L338.8 152.8 L340.2 157.3 L341.5 161.5 L342.8 165.2 L344.1 168.6 L345.5 171.5 L346.8 174.0 L348.1 176.1 L349.4 177.7 L350.7 178.8 L352.1 179.5 L353.4 179.8 L354.7 179.6 L356.0 178.9 L357.4 177.8 L358.7 176.2 L360.0 174.2 L361.3 171.7 L362.6 168.8 L364.0 165.5 L365.3 161.8 L366.6 157.8 L367.9 153.3 L369.3 148.5 L370.6 143.4 L371.9 138.1 L373.2 132.5 L374.5 126.7 L375.9 120.8 L377.2 114.8 L378.5 108.7 L379.8 102.8 L381.2 97.0 L382.5 91.4 L383.8 86.1 L385.1 81.3 L386.4 76.9 L387.8 73.1 L389.1 70.0 L390.4 67.6 L391.7 66.0 L393.1 65.2 L394.4 65.3 L395.7 66.2 L397.0 68.0 L398.3 70.5 L399.7 73.7 L401.0 77.6 L402.3 82.1 L403.6 87.0 L404.9 92.4 L406.3 98.0 L407.6 103.9 L408.9 109.9 L410.2 116.0 L411.6 122.1 L412.9 128.1 L414.2 133.9 L415.5 139.6 L416.8 145.1 L418.2 150.2 L419.5 155.1 L420.8 159.7 L422.1 163.9 L423.5 167.8 L424.8 171.2 L426.1 174.3 L427.4 176.9 L428.7 179.2 L430.1 181.0 L431.4 182.4 L432.7 183.3 L434.0 183.8 L435.4 183.9 L436.7 183.5 L438.0 182.7 L439.3 181.5 L440.6 179.8 L442.0 177.7 L443.3 175.1 L444.6 172.2 L445.9 168.8 L447.3 165.1 L448.6 160.9 L449.9 156.4 L451.2 151.6 L452.5 146.5 L453.9 141.0 L455.2 135.4 L456.5 129.5 L457.8 123.4 L459.2 117.2 L460.5 111.0 L461.8 104.7 L463.1 98.6 L464.4 92.6 L465.8 86.9 L467.1 81.5 L468.4 76.5 L469.7 72.0 L471.1 68.2 L472.4 65.0 L473.7 62.6 L475.0 60.9 L476.3 60.1 L477.7 60.2 L479.0 61.1 L480.3 62.8 L481.6 65.4 L483.0 68.6 L484.3 72.5 L485.6 77.0 L486.9 82.0 L488.2 87.4 L489.6 93.0 L490.9 98.9 L492.2 105.0 L493.5 111.1 L494.8 117.2 L496.2 123.2 L497.5 129.0 L498.8 134.7 L500.1 140.2 L501.5 145.4 L502.8 150.3 L504.1 154.9 L505.4 159.2 L506.7 163.1 L508.1 166.6 L509.4 169.7 L510.7 172.4 L512.0 174.6 L513.4 176.5 L514.7 177.9 L516.0 178.9 L517.3 179.5 L518.6 179.6 L520.0 179.3 L521.3 178.5 L522.6 177.3 L523.9 175.7 L525.3 173.6 L526.6 171.1 L527.9 168.2 L529.2 164.9 L530.5 161.2 L531.9 157.2 L533.2 152.7 L534.5 147.9 L535.8 142.8 L537.2 137.4 L538.5 131.8 L539.8 126.0 L541.1 119.9 L542.4 113.8 L543.8 107.6 L545.1 101.4 L546.4 95.2 L547.7 89.3 L549.1 83.5 L550.4 78.1 L551.7 73.1 L553.0 68.6 L554.3 64.7 L555.7 61.5 L557.0 59.0 L558.3 57.3 L559.6 56.5 L561.0 56.5 L562.3 57.3 L563.6 59.0 L564.9 61.5 L566.2 64.7 L567.6 68.6 L568.9 73.0 L570.2 78.0 L571.5 83.3 L572.9 89.0 L574.2 94.9 L575.5 100.9 L576.8 107.0 L578.1 113.1 L579.5 119.1 L580.8 125.0 L582.1 130.7 L583.4 136.2 L584.7 141.4 L586.1 146.4 L587.4 151.0 L588.7 155.3 L590.0 159.2 L591.4 162.7 L592.7 165.8 L594.0 168.5 L595.3 170.8 L596.6 172.7 L598.0 174.2 L599.3 175.2 L600.6 175.7 L601.9 175.9 L603.3 175.6 L604.6 174.8 L605.9 173.6 L607.2 172.0 L608.5 170.0 L609.9 167.5 L611.2 164.6 L612.5 161.3 L613.8 157.7 L615.2 153.6 L616.5 149.2 L617.8 144.4 L619.1 139.3 L620.4 134.0 L621.8 128.3 L623.1 122.5 L624.4 116.5 L625.7 110.4 L627.1 104.2 L628.4 98.0 L629.7 91.9 L631.0 86.0 L632.3 80.3 L633.7 74.9 L635.0 70.0 L636.3 65.6 L637.6 61.7 L639.0 58.6 L640.3 56.1 L641.6 54.5 L642.9 53.7 L644.2 53.8 L645.6 54.7 L646.9 56.4 L648.2 58.9 L649.5 62.2 L650.9 66.1 L652.2 70.6 L653.5 75.5 L654.8 80.9 L656.1 86.6 L657.5 92.5 L658.8 98.5 L660.1 104.6 L661.4 110.7 L662.8 116.7 L664.1 122.6 L665.4 128.3 L666.7 133.7 L668.0 139.0 L669.4 143.9 L670.7 148.5 L672.0 152.7 L673.3 156.6 L674.6 160.1 L676.0 163.2 L677.3 165.9 L678.6 168.1 L679.9 170.0 L681.3 171.4 L682.6 172.4 L683.9 173.0 L685.2 173.1 L686.5 172.7 L687.9 172.0 L689.2 170.8 L690.5 169.1 L691.8 167.1 L693.2 164.6 L694.5 161.7 L695.8 158.4 L697.1 154.7 L698.4 150.7 L699.8 146.3 L701.1 141.5 L702.4 136.4 L703.7 131.1 L705.1 125.5 L706.4 119.7 L707.7 113.7 L709.0 107.6 L710.3 101.4 L711.7 95.3 L713.0 89.2 L714.3 83.4 L715.6 77.7 L717.0 72.4 L718.3 67.5 L719.6 63.1 L720.9 59.4 L722.2 56.3 L723.6 53.9 L724.9 52.3 L726.2 51.6 L727.5 51.7 L728.9 52.7 L730.2 54.4 L731.5 57.0 L732.8 60.3 L734.1 64.2 L735.5 68.7 L736.8 73.7 L738.1 79.1 L739.4 84.8 L740.8 90.7 L742.1 96.7 L743.4 102.9 L744.7 109.0 L746.0 115.0 L747.4 120.9 L748.7 126.6 L750.0 132.1 L751.3 137.4 L752.7 142.4 L754.0 147.0 L755.3 151.3 L756.6 155.3 L757.9 158.8 L759.3 162.0 L760.6 164.8 L761.9 167.2 L763.2 169.1 L764.5 170.7 L765.9 171.8 L767.2 172.5 L768.5 172.7 L769.8 172.5 L771.2 171.9 L772.5 170.9 L773.8 169.5 L775.1 167.6 L776.4 165.3 L777.8 162.7 L779.1 159.6 L780.4 156.2 L781.7 152.4 L783.1 148.2 L784.4 143.7 L785.7 139.0 L787.0 133.9 L788.3 128.6 L789.7 123.1 L791.0 117.5 L792.3 111.7 L793.6 105.9 L795.0 100.2 L796.3 94.5 L797.6 88.9 L798.9 83.6 L800.2 78.7 L801.6 74.1 L802.9 70.1 L804.2 66.6 L805.5 63.8 L806.9 61.7 L808.2 60.4 L809.5 59.9 L810.8 60.2 L812.1 61.4 L813.5 63.4 L814.8 66.2 L816.1 69.6 L817.4 73.8 L818.8 78.5 L820.1 83.8 L821.4 89.4 L822.7 95.4 L824.0 101.7 L825.4 108.1 L826.7 114.6 L828.0 121.1 L829.3 127.6 L830.7 134.0 L832.0 140.2 L833.3 146.3 L834.6 152.1 L835.9 157.7 L837.3 163.0 L838.6 168.0 L839.9 172.6 L841.2 176.9 L842.6 180.9 L843.9 184.5 L845.2 187.6 L846.5 190.5 L847.8 192.9 L849.2 194.9 L850.5 196.5 L851.8 197.7 L853.1 198.6 L854.4 199.0 L855.8 199.0 L857.1 198.7 L858.4 198.0 L859.7 196.8 L861.1 195.4 L862.4 193.5 L863.7 191.3 L865.0 188.8 L866.3 186.0 L867.7 182.8 L869.0 179.4 L870.3 175.8 L871.6 171.9 L873.0 167.8 L874.3 163.6 L875.6 159.3 L876.9 154.9 L878.2 150.5 L879.6 146.2 L880.9 142.0 L882.2 138.0 L883.5 134.2 L884.9 130.8 L886.2 127.8 L887.5 125.3 L888.8 123.3 L890.1 121.9 L891.5 121.2 L892.8 121.1 L894.1 121.8 L895.4 123.2 L896.8 125.3 L898.1 128.1 L899.4 131.5 L900.7 135.6 L902.0 140.2 L903.4 145.3 L904.7 150.8 L906.0 156.7 L907.3 162.8 L908.7 169.1 L910.0 175.5 L911.3 181.9 L912.6 188.4 L913.9 194.8 L915.3 201.1 L916.6 207.2 L917.9 213.1 L919.2 218.8 L920.6 224.3 L921.9 229.5 L923.2 234.4 L924.5 239.0 L925.8 243.2 L927.2 247.2 L928.5 250.8 L929.8 254.1 L931.1 257.0 L932.5 259.7 L933.8 262.0 L935.1 264.0 L936.4 265.7 L937.7 267.1 L939.1 268.2 L940.4 269.0 L941.7 269.6 L943.0 269.9 L944.3 270.1 L945.7 270.0 L947.0 269.7 L948.3 269.2 L949.6 268.6 L951.0 267.9 L952.3 267.1 L953.6 266.1 L954.9 265.1 L956.2 264.0 L957.6 263.0 L958.9 261.9 L960.2 260.8 L961.5 259.7 L962.9 258.7 L964.2 257.7 L965.5 256.8 L966.8 256.0 L968.1 255.3 L969.5 254.7 L970.8 254.2 L972.1 253.8 L973.4 253.6 L974.8 253.5 L976.1 253.5 L977.4 253.6 L978.7 253.9 L980.0 254.3 L981.4 254.8 L982.7 255.4 L984.0 256.2 L985.3 257.0 L986.7 257.9 L988.0 258.9 L989.3 259.9 L990.6 261.0 L991.9 262.1 L993.3 263.2 L994.6 264.4 L995.9 265.5 L997.2 266.7 L998.6 267.8 L999.9 268.9 L1001.2 269.9 L1002.5 270.9 L1003.8 271.8 L1005.2 272.7 L1006.5 273.4 L1007.8 274.1 L1009.1 274.6 L1010.5 275.1 L1011.8 275.4 L1013.1 275.6 L1014.4 275.7" stroke="#000" stroke-width="6"/>
</g>
<g fill="none" stroke="#ff0000" stroke-width="4.95">
<circle cx="227.7" cy="276.2" r="6.3"/>
<circle cx="313.4" cy="276.2" r="6.3"/>
<circle cx="394.1" cy="276.2" r="6.3"/>
<circle cx="477.3" cy="276.2" r="6.3"/>
<circle cx="560.7" cy="276.2" r="6.3"/>
<circle cx="643.9" cy="276.2" r="6.3"/>
<circle cx="727.1" cy="276.2" r="6.3"/>
<circle cx="810.4" cy="276.2" r="6.3"/>
<circle cx="893.5" cy="276.2" r="6.3"/>
<circle cx="976.3" cy="276.2" r="6.3"/>
</g>
<g text-anchor="middle">
<text transform="translate(90.3 789.8) scale(1 1.04)">10</text>
<text transform="translate(222.2 789.8) scale(1 1.04)">30</text>
<text transform="translate(366.7 789.8) scale(1 1.04)">100</text>
<text transform="translate(498.6 789.8) scale(1 1.04)">300</text>
<text transform="translate(643.1 789.8) scale(1 1.04)">1000</text>
<text transform="translate(775.0 789.8) scale(1 1.04)">3000</text>
<text transform="translate(919.5 789.8) scale(1 1.04)">10000</text>
<text class="lab" x="551.9" y="832.8">Frequency (Hz)</text>
</g>
<g text-anchor="end">
<text transform="translate(79.4 717.2) scale(1 1.04)">0</text>
<text transform="translate(79.4 631.3) scale(1 1.04)">2</text>
<text transform="translate(79.4 545.5) scale(1 1.04)">4</text>
<text transform="translate(79.4 459.6) scale(1 1.04)">6</text>
<text transform="translate(79.4 373.7) scale(1 1.04)">8</text>
<text transform="translate(79.4 287.9) scale(1 1.04)">10</text>
<text transform="translate(79.4 202.0) scale(1 1.04)">12</text>
<text transform="translate(79.4 116.2) scale(1 1.04)">14</text>
<text transform="translate(79.4 30.3) scale(1 1.04)">16</text>
</g>
<text class="lab" text-anchor="middle" transform="translate(32.4 384) rotate(-90)">Magnitude (dB)</text>
</svg></body></html>
